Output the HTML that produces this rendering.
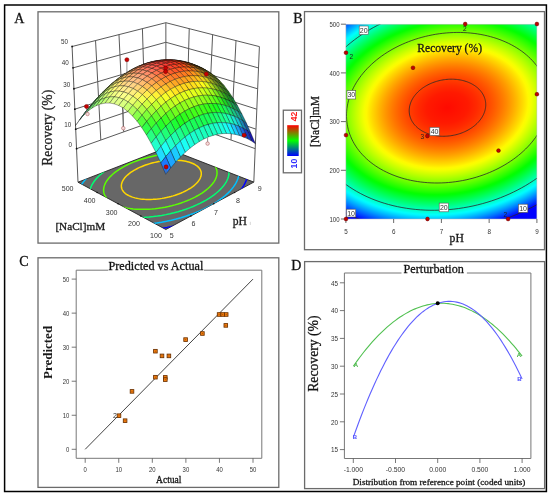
<!DOCTYPE html><html><head><meta charset="utf-8"><style>html,body{margin:0;padding:0;background:#fff;}svg{display:block;}</style></head><body>
<svg width="550" height="496" viewBox="0 0 550 496">
<style>.h{stroke:#1a1a1a;stroke-width:0.3px;}</style>
<rect x="0" y="0" width="550" height="496" fill="#fff"/>
<rect x="4.6" y="5" width="541.8" height="486.5" fill="none" stroke="#000" stroke-width="1.5"/>
<rect x="38" y="11.8" width="240.8" height="231.3" fill="none" stroke="#6b6b6b" stroke-width="1.3"/>
<rect x="304.5" y="11.6" width="240" height="238.1" fill="none" stroke="#6b6b6b" stroke-width="1.3"/>
<rect x="283.3" y="110.2" width="18.2" height="62.6" fill="none" stroke="#6b6b6b" stroke-width="1.3"/>
<rect x="38" y="257.8" width="240.8" height="229.6" fill="none" stroke="#6b6b6b" stroke-width="1.3"/>
<rect x="304.6" y="261.6" width="240" height="227" fill="none" stroke="#6b6b6b" stroke-width="1.3"/>
<text x="14.3" y="22.5" font-family="Liberation Serif, serif" class="h" font-size="14" fill="#111">A</text>
<text x="293.2" y="22.5" font-family="Liberation Serif, serif" class="h" font-size="14" fill="#111">B</text>
<text x="19.2" y="266.4" font-family="Liberation Serif, serif" class="h" font-size="14" fill="#111">C</text>
<text x="291.2" y="270" font-family="Liberation Serif, serif" class="h" font-size="14" fill="#111">D</text>
<path d="M76.56,148.69L165.96,116.84L255.16,148.64M75.71,129.16L165.94,98.74L255.96,129.13M74.84,109.18L165.91,80.29L256.79,109.19M73.95,88.76L165.89,61.47L257.63,88.8M73.04,67.87L165.87,42.28L258.5,67.94M72.1,46.5L165.85,22.7L259.4,46.6M100.8,139.98L95.54,40.55M186.51,124.1L189.24,28.68M123.69,131.81L118.97,34.6M208.15,131.79L212.62,34.65M145.37,124.11L142.41,28.65M230.98,139.95L236.01,40.62M78,182.2L72.1,46.5M166,148L165.85,22.7M253.8,182.1L259.4,46.6" stroke="#5a5a5a" stroke-width="1.0" fill="none"/>
<circle cx="76.56" cy="148.69" r="0.9" fill="#111"/>
<circle cx="75.71" cy="129.16" r="0.9" fill="#111"/>
<circle cx="74.84" cy="109.18" r="0.9" fill="#111"/>
<circle cx="73.95" cy="88.76" r="0.9" fill="#111"/>
<circle cx="73.04" cy="67.87" r="0.9" fill="#111"/>
<circle cx="72.1" cy="46.5" r="0.9" fill="#111"/>
<clipPath id="flc"><polygon points="78,182.2 166,148 253.8,182.1 165.85,229.5"/></clipPath>
<polygon points="78,182.2 166,148 253.8,182.1 165.85,229.5" fill="#676767" stroke="#222" stroke-width="0.9"/>
<g clip-path="url(#flc)" fill="none" stroke-width="1.5">
<path d="M86.74,224.37L83.37,222.81L80.3,221.12L77.53,219.32L75.07,217.41L72.92,215.41L71.08,213.31L69.55,211.14L68.33,208.9L67.43,206.61L66.82,204.26L66.51,201.88L66.5,199.47L66.77,197.05L67.31,194.61L68.12,192.17L69.18,189.74L70.49,187.32L72.04,184.92L73.8,182.55L75.78,180.21L77.95,177.91L80.32,175.65L82.86,173.45L85.56,171.29L88.42,169.2L91.43,167.16L94.56,165.19L97.82,163.28L101.18,161.44L104.65,159.68L108.21,157.99L111.85,156.37L115.57,154.84L119.34,153.38L123.18,152L127.06,150.7L130.98,149.48L134.93,148.35L138.91,147.29L142.91,146.33L146.91,145.44L150.92,144.64L154.93,143.93L158.93,143.3L162.92,142.75L166.88,142.29L170.82,141.92L174.72,141.63L178.59,141.43L182.41,141.31L186.18,141.28L189.9,141.34L193.56,141.48L197.15,141.7L200.67,142.01L204.11,142.41L207.47,142.89L210.74,143.46L213.91,144.12L216.99,144.85L219.96,145.68L222.81,146.58L225.55,147.57L228.16,148.65L230.65,149.81L232.99,151.05L235.19,152.37L237.23,153.77L239.12,155.25L240.85,156.81L242.4,158.44L243.77,160.15L244.95,161.94L245.95,163.79L246.74,165.72L247.32,167.7L247.69,169.76L247.84,171.87L247.76,174.04L247.45,176.26L246.9,178.52L246.1,180.83L245.05,183.18L243.75,185.56L242.19,187.96L240.38,190.39L238.29,192.82L235.95,195.26L233.35,197.69L230.48,200.11L227.35,202.52L223.97,204.89L220.34,207.22L216.47,209.5L212.36,211.72L208.04,213.87L203.49,215.94L198.76,217.92L193.83,219.8L188.75,221.58L183.51,223.23L178.15,224.75L172.68,226.14L167.13,227.38L161.51,228.47L155.86,229.39L150.2,230.16L144.55,230.75L138.94,231.17L133.4,231.42L127.95,231.48L122.61,231.37L117.41,231.08L112.38,230.61L107.53,229.98L102.89,229.17L98.47,228.2L94.3,227.07L90.38,225.79L86.74,224.37Z" stroke="#0000ff"/>
<path d="M96.06,218.68L93.06,217.34L90.32,215.89L87.83,214.33L85.6,212.68L83.64,210.95L81.95,209.13L80.53,207.24L79.37,205.3L78.49,203.3L77.87,201.25L77.51,199.17L77.41,197.05L77.56,194.92L77.95,192.77L78.58,190.62L79.44,188.47L80.52,186.33L81.81,184.2L83.3,182.08L84.98,180L86.85,177.94L88.9,175.92L91.1,173.94L93.46,172.01L95.97,170.12L98.6,168.28L101.37,166.5L104.25,164.77L107.24,163.1L110.32,161.5L113.49,159.96L116.75,158.49L120.07,157.09L123.46,155.75L126.91,154.49L130.4,153.3L133.93,152.19L137.5,151.14L141.1,150.18L144.71,149.29L148.34,148.47L151.98,147.74L155.61,147.08L159.24,146.5L162.86,146L166.46,145.57L170.04,145.23L173.59,144.96L177.11,144.77L180.58,144.67L184.01,144.64L187.39,144.69L190.72,144.82L193.98,145.03L197.17,145.31L200.29,145.68L203.34,146.13L206.3,146.65L209.17,147.25L211.94,147.93L214.62,148.69L217.19,149.53L219.65,150.44L221.99,151.42L224.2,152.49L226.29,153.62L228.24,154.83L230.05,156.11L231.72,157.46L233.22,158.89L234.57,160.38L235.75,161.93L236.76,163.55L237.6,165.23L238.24,166.97L238.7,168.77L238.97,170.62L239.03,172.52L238.88,174.47L238.53,176.46L237.96,178.49L237.17,180.55L236.16,182.65L234.92,184.76L233.46,186.9L231.77,189.04L229.85,191.2L227.69,193.35L225.31,195.49L222.71,197.62L219.88,199.72L216.83,201.8L213.57,203.83L210.1,205.82L206.44,207.75L202.58,209.62L198.55,211.41L194.35,213.12L190.01,214.75L185.52,216.28L180.91,217.7L176.2,219.01L171.4,220.2L166.53,221.26L161.61,222.19L156.67,222.99L151.72,223.64L146.79,224.15L141.89,224.51L137.04,224.72L132.28,224.77L127.61,224.68L123.07,224.43L118.66,224.03L114.41,223.48L110.33,222.79L106.44,221.96L102.76,221L99.29,219.9L96.06,218.68Z" stroke="#00c0ff"/>
<path d="M106.2,212.48L103.62,211.37L101.25,210.17L99.08,208.88L97.13,207.5L95.4,206.05L93.9,204.54L92.61,202.96L91.56,201.32L90.72,199.64L90.11,197.91L89.72,196.15L89.55,194.36L89.59,192.55L89.84,190.72L90.3,188.89L90.95,187.05L91.8,185.21L92.83,183.38L94.04,181.56L95.42,179.76L96.96,177.98L98.65,176.23L100.5,174.51L102.48,172.82L104.6,171.17L106.84,169.56L109.19,168L111.65,166.48L114.21,165.02L116.87,163.61L119.6,162.25L122.42,160.95L125.3,159.7L128.24,158.52L131.24,157.4L134.29,156.34L137.38,155.34L140.5,154.41L143.65,153.55L146.82,152.75L150.01,152.03L153.21,151.37L156.41,150.78L159.61,150.25L162.8,149.8L165.98,149.42L169.14,149.11L172.27,148.87L175.37,148.71L178.44,148.61L181.47,148.58L184.45,148.63L187.38,148.74L190.25,148.93L193.07,149.19L195.81,149.52L198.49,149.92L201.09,150.39L203.6,150.93L206.03,151.54L208.37,152.22L210.61,152.97L212.75,153.78L214.78,154.66L216.69,155.61L218.49,156.62L220.17,157.7L221.71,158.84L223.12,160.03L224.39,161.29L225.52,162.61L226.5,163.98L227.32,165.41L227.99,166.89L228.49,168.42L228.82,169.99L228.98,171.61L228.97,173.27L228.77,174.97L228.39,176.7L227.82,178.45L227.06,180.24L226.11,182.04L224.97,183.87L223.64,185.7L222.11,187.54L220.38,189.38L218.47,191.21L216.36,193.03L214.06,194.84L211.58,196.62L208.92,198.37L206.08,200.09L203.08,201.76L199.91,203.38L196.59,204.94L193.13,206.44L189.54,207.87L185.82,209.23L182,210.49L178.08,211.67L174.07,212.76L170,213.74L165.88,214.62L161.73,215.39L157.55,216.05L153.37,216.59L149.2,217L145.07,217.3L140.98,217.47L136.96,217.52L133.02,217.44L129.18,217.23L125.45,216.91L121.85,216.46L118.39,215.89L115.08,215.2L111.94,214.4L108.98,213.5L106.2,212.48Z" stroke="#00ff72"/>
<path d="M117.67,205.48L115.58,204.62L113.64,203.69L111.87,202.68L110.26,201.61L108.82,200.47L107.55,199.28L106.46,198.04L105.54,196.75L104.8,195.42L104.24,194.06L103.85,192.66L103.63,191.24L103.58,189.79L103.71,188.33L103.99,186.86L104.44,185.38L105.05,183.89L105.81,182.41L106.71,180.94L107.76,179.47L108.95,178.02L110.26,176.59L111.7,175.18L113.27,173.79L114.94,172.43L116.72,171.1L118.6,169.81L120.58,168.55L122.65,167.33L124.79,166.15L127.02,165.02L129.31,163.93L131.66,162.88L134.08,161.89L136.54,160.94L139.05,160.05L141.6,159.21L144.18,158.42L146.79,157.69L149.42,157.02L152.07,156.4L154.73,155.84L157.4,155.33L160.06,154.89L162.72,154.5L165.38,154.18L168.01,153.92L170.63,153.71L173.22,153.57L175.79,153.48L178.32,153.46L180.81,153.5L183.25,153.6L185.65,153.76L187.99,153.98L190.28,154.26L192.51,154.6L194.66,155.01L196.75,155.47L198.76,155.98L200.68,156.56L202.53,157.2L204.28,157.89L205.94,158.63L207.5,159.43L208.95,160.29L210.3,161.2L211.54,162.15L212.67,163.16L213.67,164.22L214.55,165.32L215.3,166.47L215.92,167.66L216.41,168.89L216.76,170.16L216.97,171.46L217.03,172.8L216.95,174.16L216.71,175.56L216.33,176.97L215.8,178.41L215.11,179.87L214.26,181.33L213.26,182.81L212.11,184.29L210.8,185.77L209.33,187.25L207.72,188.72L205.95,190.18L204.04,191.62L201.99,193.04L199.8,194.43L197.47,195.78L195.02,197.1L192.44,198.38L189.75,199.6L186.95,200.78L184.06,201.9L181.07,202.95L178,203.94L174.87,204.86L171.67,205.7L168.43,206.46L165.15,207.14L161.85,207.74L158.54,208.24L155.22,208.66L151.92,208.98L148.65,209.21L145.41,209.34L142.22,209.37L139.1,209.31L136.04,209.15L133.08,208.9L130.21,208.56L127.45,208.12L124.81,207.59L122.29,206.97L119.91,206.27L117.67,205.48Z" stroke="#5bff00"/>
<path d="M131.76,196.88L130.3,196.31L128.94,195.68L127.68,195.01L126.53,194.3L125.49,193.54L124.57,192.74L123.76,191.91L123.06,191.04L122.49,190.14L122.03,189.21L121.69,188.25L121.47,187.28L121.37,186.29L121.38,185.28L121.51,184.26L121.75,183.24L122.11,182.2L122.57,181.17L123.14,180.13L123.81,179.1L124.58,178.08L125.44,177.06L126.4,176.06L127.45,175.07L128.59,174.1L129.8,173.14L131.09,172.21L132.46,171.3L133.9,170.42L135.4,169.56L136.95,168.73L138.57,167.93L140.24,167.17L141.95,166.44L143.7,165.74L145.5,165.08L147.32,164.46L149.18,163.88L151.06,163.33L152.96,162.83L154.88,162.37L156.81,161.95L158.74,161.57L160.68,161.24L162.62,160.95L164.55,160.71L166.47,160.51L168.38,160.36L170.27,160.25L172.14,160.19L173.99,160.17L175.8,160.2L177.58,160.27L179.33,160.39L181.03,160.56L182.69,160.77L184.3,161.03L185.86,161.33L187.36,161.67L188.8,162.06L190.18,162.49L191.5,162.96L192.75,163.48L193.92,164.03L195.02,164.62L196.04,165.26L196.97,165.93L197.82,166.63L198.59,167.37L199.26,168.15L199.84,168.95L200.33,169.79L200.72,170.65L201.01,171.54L201.2,172.46L201.29,173.4L201.27,174.36L201.14,175.34L200.91,176.33L200.58,177.34L200.13,178.35L199.58,179.38L198.91,180.41L198.15,181.45L197.27,182.48L196.29,183.51L195.21,184.54L194.02,185.55L192.74,186.56L191.36,187.54L189.88,188.51L188.31,189.46L186.66,190.38L184.93,191.27L183.11,192.13L181.23,192.96L179.28,193.75L177.26,194.49L175.2,195.2L173.08,195.85L170.92,196.46L168.73,197.02L166.5,197.53L164.26,197.98L162,198.37L159.74,198.7L157.49,198.97L155.24,199.18L153.01,199.33L150.8,199.42L148.63,199.44L146.5,199.4L144.42,199.3L142.39,199.13L140.43,198.91L138.53,198.62L136.71,198.27L134.98,197.86L133.32,197.4L131.76,196.88Z" stroke="#ffd700"/>
</g>
<g stroke="#000" stroke-opacity="0.5" stroke-width="0.65" stroke-linejoin="round">
<path d="M165.9,75.27L170.23,77.08L165.91,81.19L161.59,79.46Z" fill="#99d9a8"/>
<path d="M161.5,73.84L165.9,75.27L161.59,79.46L157.21,78.12Z" fill="#99e99d"/>
<path d="M170.29,71.78L174.64,73.68L170.23,77.08L165.9,75.27Z" fill="#9ecf99"/>
<path d="M157.05,72.81L161.5,73.84L157.21,78.12L152.79,77.17Z" fill="#a3f799"/>
<path d="M165.88,70.26L170.29,71.78L165.9,75.27L161.5,73.84Z" fill="#abde99"/>
<path d="M174.75,69L179.11,70.98L174.64,73.68L170.29,71.78Z" fill="#a9c799"/>
<path d="M152.57,72.17L157.05,72.81L152.79,77.17L148.32,76.62Z" fill="#b1ff99"/>
<path d="M161.42,69.14L165.88,70.26L161.5,73.84L157.05,72.81Z" fill="#bdef99"/>
<path d="M170.33,67.4L174.75,69L170.29,71.78L165.88,70.26Z" fill="#b8d399"/>
<path d="M179.27,66.95L183.63,69.02L179.11,70.98L174.75,69Z" fill="#b2c499"/>
<path d="M156.92,68.42L161.42,69.14L157.05,72.81L152.57,72.17Z" fill="#d0fc99"/>
<path d="M174.84,65.27L179.27,66.95L174.75,69L170.33,67.4Z" fill="#beca99"/>
<path d="M183.82,65.64L188.17,67.79L183.63,69.02L179.27,66.95Z" fill="#96a666"/>
<path d="M148.06,71.93L152.57,72.17L148.32,76.62L143.83,76.47Z" fill="#bbff99"/>
<path d="M165.86,66.2L170.33,67.4L165.88,70.26L161.42,69.14Z" fill="#cde499"/>
<path d="M161.35,65.39L165.86,66.2L161.42,69.14L156.92,68.42Z" fill="#e6f699"/>
<path d="M170.36,63.98L174.84,65.27L170.33,67.4L165.86,66.2Z" fill="#d4d999"/>
<path d="M143.52,72.1L148.06,71.93L143.83,76.47L139.32,76.72Z" fill="#c3ff99"/>
<path d="M152.39,68.1L156.92,68.42L152.57,72.17L148.06,71.93Z" fill="#dcff99"/>
<path d="M179.39,63.88L183.82,65.64L179.27,66.95L174.84,65.27Z" fill="#a9ad6f"/>
<path d="M188.39,65.09L192.74,67.31L188.17,67.79L183.82,65.64Z" fill="#7a852d"/>
<path d="M138.97,72.69L143.52,72.1L139.32,76.72L134.79,77.38Z" fill="#c9ff99"/>
<path d="M147.83,68.19L152.39,68.1L148.06,71.93L143.52,72.1Z" fill="#e5ff99"/>
<path d="M156.81,64.98L161.35,65.39L156.92,68.42L152.39,68.1Z" fill="#f9ff99"/>
<path d="M165.85,63.09L170.36,63.98L165.86,66.2L161.35,65.39Z" fill="#ede899"/>
<path d="M183.96,63.25L188.39,65.09L183.82,65.64L179.39,63.88Z" fill="#898334"/>
<path d="M192.96,65.3L197.31,67.6L192.74,67.31L188.39,65.09Z" fill="#777a1a"/>
<path d="M174.91,62.51L179.39,63.88L174.84,65.27L170.36,63.98Z" fill="#c0b877"/>
<path d="M134.41,73.69L138.97,72.69L134.79,77.38L130.26,78.46Z" fill="#ccff99"/>
<path d="M143.27,68.69L147.83,68.19L143.52,72.1L138.97,72.69Z" fill="#ebff99"/>
<path d="M152.24,64.99L156.81,64.98L152.39,68.1L147.83,68.19Z" fill="#fffc99"/>
<path d="M161.29,62.6L165.85,63.09L161.35,65.39L156.81,64.98Z" fill="#fceb99"/>
<path d="M170.39,61.54L174.91,62.51L170.36,63.98L165.85,63.09Z" fill="#dbc47d"/>
<path d="M179.49,61.8L183.96,63.25L179.39,63.88L174.91,62.51Z" fill="#96803b"/>
<path d="M188.55,63.38L192.96,65.3L188.39,65.09L183.96,63.25Z" fill="#7a6b1a"/>
<path d="M197.54,66.28L201.87,68.65L197.31,67.6L192.96,65.3Z" fill="#7a7a1a"/>
<path d="M129.85,75.11L134.41,73.69L130.26,78.46L125.72,79.96Z" fill="#cdff99"/>
<path d="M138.69,69.62L143.27,68.69L138.97,72.69L134.41,73.69Z" fill="#eeff99"/>
<path d="M147.66,65.42L152.24,64.99L147.83,68.19L143.27,68.69Z" fill="#fff699"/>
<path d="M156.72,62.53L161.29,62.6L156.81,64.98L152.24,64.99Z" fill="#ffe499"/>
<path d="M165.83,60.97L170.39,61.54L165.85,63.09L161.29,62.6Z" fill="#f4ca82"/>
<path d="M174.96,60.75L179.49,61.8L174.91,62.51L170.39,61.54Z" fill="#b88b43"/>
<path d="M184.08,61.86L188.55,63.38L183.96,63.25L179.49,61.8Z" fill="#7c5c1a"/>
<path d="M193.14,64.3L197.54,66.28L192.96,65.3L188.55,63.38Z" fill="#7a661a"/>
<path d="M202.1,68.06L206.41,70.49L201.87,68.65L197.54,66.28Z" fill="#7a7a1a"/>
<path d="M134.11,70.97L138.69,69.62L134.41,73.69L129.85,75.11Z" fill="#efff99"/>
<path d="M143.06,66.26L147.66,65.42L143.27,68.69L138.69,69.62Z" fill="#fff299"/>
<path d="M152.12,62.88L156.72,62.53L152.24,64.99L147.66,65.42Z" fill="#ffdd99"/>
<path d="M179.56,60.74L184.08,61.86L179.49,61.8L174.96,60.75Z" fill="#995c1c"/>
<path d="M188.67,62.71L193.14,64.3L188.55,63.38L184.08,61.86Z" fill="#7a561a"/>
<path d="M197.71,66.01L202.1,68.06L197.54,66.28L193.14,64.3Z" fill="#7a661a"/>
<path d="M125.29,76.97L129.85,75.11L125.72,79.96L121.18,81.88Z" fill="#cbff99"/>
<path d="M161.25,60.82L165.83,60.97L161.29,62.6L156.72,62.53Z" fill="#ffc784"/>
<path d="M170.4,60.11L174.96,60.75L170.39,61.54L165.83,60.97Z" fill="#e19449"/>
<path d="M206.64,70.63L210.93,73.12L206.41,70.49L202.1,68.06Z" fill="#757a1a"/>
<path d="M138.46,67.54L143.06,66.26L138.69,69.62L134.11,70.97Z" fill="#fff199"/>
<path d="M147.51,63.65L152.12,62.88L147.66,65.42L143.06,66.26Z" fill="#ffd999"/>
<path d="M184.16,61.52L188.67,62.71L184.08,61.86L179.56,60.74Z" fill="#8d501b"/>
<path d="M193.26,64.35L197.71,66.01L193.14,64.3L188.67,62.71Z" fill="#7a551a"/>
<path d="M120.73,79.25L125.29,76.97L121.18,81.88L116.64,84.24Z" fill="#c7ff99"/>
<path d="M129.52,72.75L134.11,70.97L129.85,75.11L125.29,76.97Z" fill="#eeff99"/>
<path d="M156.64,61.09L161.25,60.82L156.72,62.53L152.12,62.88Z" fill="#ffbf86"/>
<path d="M165.82,59.88L170.4,60.11L165.83,60.97L161.25,60.82Z" fill="#fd9450"/>
<path d="M175,60.02L179.56,60.74L174.96,60.75L170.4,60.11Z" fill="#c9621f"/>
<path d="M202.28,68.52L206.64,70.63L202.1,68.06L197.71,66.01Z" fill="#7a6b1a"/>
<path d="M211.17,74L215.43,76.54L210.93,73.12L206.64,70.63Z" fill="#6c7a1a"/>
<path d="M142.9,64.85L147.51,63.65L143.06,66.26L138.46,67.54Z" fill="#ffd696"/>
<path d="M188.76,63.09L193.26,64.35L188.67,62.71L184.16,61.52Z" fill="#884d1a"/>
<path d="M133.86,69.25L138.46,67.54L134.11,70.97L129.52,72.75Z" fill="#fff299"/>
<path d="M152.03,61.79L156.64,61.09L152.12,62.88L147.51,63.65Z" fill="#ffba86"/>
<path d="M161.21,60.08L165.82,59.88L161.25,60.82L156.64,61.09Z" fill="#ff8c55"/>
<path d="M170.41,59.72L175,60.02L170.4,60.11L165.82,59.88Z" fill="#f56024"/>
<path d="M179.61,60.73L184.16,61.52L179.56,60.74L175,60.02Z" fill="#ba511c"/>
<path d="M197.85,66.8L202.28,68.52L197.71,66.01L193.26,64.35Z" fill="#7a591a"/>
<path d="M116.17,81.98L120.73,79.25L116.64,84.24L112.1,87.03Z" fill="#c0ff99"/>
<path d="M124.94,74.97L129.52,72.75L125.29,76.97L120.73,79.25Z" fill="#eaff99"/>
<path d="M206.82,71.83L211.17,74L206.64,70.63L202.28,68.52Z" fill="#7a731a"/>
<path d="M215.67,78.17L219.9,80.76L215.43,76.54L211.17,74Z" fill="#5e7a1a"/>
<path d="M111.61,85.15L116.17,81.98L112.1,87.03L107.57,90.26Z" fill="#b6ff99"/>
<path d="M120.36,77.63L124.94,74.97L120.73,79.25L116.17,81.98Z" fill="#e3ff99"/>
<path d="M129.26,71.4L133.86,69.25L129.52,72.75L124.94,74.97Z" fill="#fff697"/>
<path d="M138.29,66.49L142.9,64.85L138.46,67.54L133.86,69.25Z" fill="#ffd693"/>
<path d="M147.4,62.91L152.03,61.79L147.51,63.65L142.9,64.85Z" fill="#ffb786"/>
<path d="M156.59,60.7L161.21,60.08L156.64,61.09L152.03,61.79Z" fill="#ff885a"/>
<path d="M165.8,59.85L170.41,59.72L165.82,59.88L161.21,60.08Z" fill="#ff5729"/>
<path d="M175.02,60.36L179.61,60.73L175,60.02L170.41,59.72Z" fill="#ec4e1e"/>
<path d="M184.22,62.24L188.76,63.09L184.16,61.52L179.61,60.73Z" fill="#b24d1b"/>
<path d="M193.36,65.48L197.85,66.8L193.26,64.35L188.76,63.09Z" fill="#87511a"/>
<path d="M202.41,70.06L206.82,71.83L202.28,68.52L197.85,66.8Z" fill="#7a621a"/>
<path d="M211.35,75.97L215.67,78.17L211.17,74L206.82,71.83Z" fill="#737a1a"/>
<path d="M220.14,83.17L224.34,85.79L219.9,80.76L215.67,78.17Z" fill="#4c7a1a"/>
<path d="M151.96,61.75L156.59,60.7L152.03,61.79L147.4,62.91Z" fill="#ff875f"/>
<path d="M161.18,60.4L165.8,59.85L161.21,60.08L156.59,60.7Z" fill="#ff5230"/>
<path d="M170.42,60.42L175.02,60.36L170.41,59.72L165.8,59.85Z" fill="#ff4422"/>
<path d="M179.64,61.81L184.22,62.24L179.61,60.73L175.02,60.36Z" fill="#e54a1d"/>
<path d="M215.86,80.92L220.14,83.17L215.67,78.17L211.35,75.97Z" fill="#617a1a"/>
<path d="M107.05,88.77L111.61,85.15L107.57,90.26L103.04,93.93Z" fill="#aaff99"/>
<path d="M115.78,80.74L120.36,77.63L116.17,81.98L111.61,85.15Z" fill="#d9ff97"/>
<path d="M124.66,73.99L129.26,71.4L124.94,74.97L120.36,77.63Z" fill="#fffc94"/>
<path d="M133.67,68.57L138.29,66.49L133.86,69.25L129.26,71.4Z" fill="#ffd890"/>
<path d="M142.78,64.48L147.4,62.91L142.9,64.85L138.29,66.49Z" fill="#ffb785"/>
<path d="M188.83,64.57L193.36,65.48L188.76,63.09L184.22,62.24Z" fill="#af511b"/>
<path d="M197.94,68.69L202.41,70.06L197.85,66.8L193.36,65.48Z" fill="#8b5c1a"/>
<path d="M206.96,74.15L211.35,75.97L206.82,71.83L202.41,70.06Z" fill="#7c701a"/>
<path d="M224.6,88.98L228.76,91.63L224.34,85.79L220.14,83.17Z" fill="#367a1a"/>
<path d="M111.2,84.3L115.78,80.74L111.61,85.15L107.05,88.77Z" fill="#cdff94"/>
<path d="M120.06,77.04L124.66,73.99L120.36,77.63L115.78,80.74Z" fill="#f9ff91"/>
<path d="M129.06,71.1L133.67,68.57L129.26,71.4L124.66,73.99Z" fill="#ffde8e"/>
<path d="M156.54,61.39L161.18,60.4L156.59,60.7L151.96,61.75Z" fill="#ff5439"/>
<path d="M165.79,60.9L170.42,60.42L165.8,59.85L161.18,60.4Z" fill="#ff3d27"/>
<path d="M175.04,61.8L179.64,61.81L175.02,60.36L170.42,60.42Z" fill="#ff4021"/>
<path d="M202.51,72.73L206.96,74.15L202.41,70.06L197.94,68.69Z" fill="#92701a"/>
<path d="M220.35,86.7L224.6,88.98L220.14,83.17L215.86,80.92Z" fill="#4c7b1a"/>
<path d="M102.49,92.84L107.05,88.77L103.04,93.93L98.5,98.05Z" fill="#99ff96"/>
<path d="M147.32,63.25L151.96,61.75L147.4,62.91L142.78,64.48Z" fill="#ff8b64"/>
<path d="M184.26,64.08L188.83,64.57L184.22,62.24L179.64,61.81Z" fill="#e14f1c"/>
<path d="M211.5,79.06L215.86,80.92L211.35,75.97L206.96,74.15Z" fill="#7c821a"/>
<path d="M229.05,95.61L233.17,98.28L228.76,91.63L224.6,88.98Z" fill="#1b7a1a"/>
<path d="M138.15,66.5L142.78,64.48L138.29,66.49L133.67,68.57Z" fill="#ffbb85"/>
<path d="M193.43,67.73L197.94,68.69L193.36,65.48L188.83,64.57Z" fill="#b25e1a"/>
<path d="M161.16,61.82L165.79,60.9L161.18,60.4L156.54,61.39Z" fill="#ff3e2f"/>
<path d="M170.42,62.22L175.04,61.8L170.42,60.42L165.79,60.9Z" fill="#ff3826"/>
<path d="M207.07,77.61L211.5,79.06L206.96,74.15L202.51,72.73Z" fill="#9d8e1a"/>
<path d="M115.47,80.55L120.06,77.04L115.78,80.74L111.2,84.3Z" fill="#edff8f"/>
<path d="M124.44,74.08L129.06,71.1L124.66,73.99L120.06,77.04Z" fill="#ffe78c"/>
<path d="M216.02,84.81L220.35,86.7L215.86,80.92L211.5,79.06Z" fill="#6b8b1a"/>
<path d="M106.62,88.32L111.2,84.3L107.05,88.77L102.49,92.84Z" fill="#bcff91"/>
<path d="M151.9,62.82L156.54,61.39L151.96,61.75L147.32,63.25Z" fill="#ff5b42"/>
<path d="M179.66,64.01L184.26,64.08L179.64,61.81L175.04,61.8Z" fill="#ff451f"/>
<path d="M224.83,93.31L229.05,95.61L224.6,88.98L220.35,86.7Z" fill="#33821a"/>
<path d="M233.49,103.06L237.57,105.74L233.17,98.28L229.05,95.61Z" fill="#1a7d38"/>
<path d="M133.52,68.96L138.15,66.5L133.67,68.57L129.06,71.1Z" fill="#ffc184"/>
<path d="M142.68,65.2L147.32,63.25L142.78,64.48L138.15,66.5Z" fill="#ff9269"/>
<path d="M188.87,67.18L193.43,67.73L188.83,64.57L184.26,64.08Z" fill="#e25e1b"/>
<path d="M198.01,71.72L202.51,72.73L197.94,68.69L193.43,67.73Z" fill="#ba761a"/>
<path d="M97.92,97.37L102.49,92.84L98.5,98.05L93.95,102.63Z" fill="#93ffa1"/>
<path d="M165.78,63.08L170.42,62.22L165.79,60.9L161.16,61.82Z" fill="#ff382e"/>
<path d="M119.83,77.53L124.44,74.08L120.06,77.04L115.47,80.55Z" fill="#fff38b"/>
<path d="M211.62,83.32L216.02,84.81L211.5,79.06L207.07,77.61Z" fill="#9aaa1a"/>
<path d="M93.33,102.36L97.92,97.37L93.95,102.63L89.38,107.66Z" fill="#90ffb4"/>
<path d="M110.86,84.51L115.47,80.55L111.2,84.3L106.62,88.32Z" fill="#ddff8c"/>
<path d="M156.51,63.19L161.16,61.82L156.54,61.39L151.9,62.82Z" fill="#ff4639"/>
<path d="M175.05,64.37L179.66,64.01L175.04,61.8L170.42,62.22Z" fill="#ff3b24"/>
<path d="M220.54,91.4L224.83,93.31L220.35,86.7L216.02,84.81Z" fill="#52981a"/>
<path d="M128.9,71.89L133.52,68.96L129.06,71.1L124.44,74.08Z" fill="#ffca84"/>
<path d="M138.05,67.6L142.68,65.2L138.15,66.5L133.52,68.96Z" fill="#ff9c6d"/>
<path d="M147.26,64.7L151.9,62.82L147.32,63.25L142.68,65.2Z" fill="#ff684c"/>
<path d="M184.29,67.06L188.87,67.18L184.26,64.08L179.66,64.01Z" fill="#ff541d"/>
<path d="M193.48,71.12L198.01,71.72L193.43,67.73L188.87,67.18Z" fill="#e6771b"/>
<path d="M202.6,76.55L207.07,77.61L202.51,72.73L198.01,71.72Z" fill="#c5991a"/>
<path d="M237.95,111.33L241.98,114.02L237.57,105.74L233.49,103.06Z" fill="#1a8662"/>
<path d="M102.03,92.8L106.62,88.32L102.49,92.84L97.92,97.37Z" fill="#a8ff8e"/>
<path d="M229.32,100.75L233.49,103.06L229.05,95.61L224.83,93.31Z" fill="#1a8d22"/>
<path d="M97.42,97.75L102.03,92.8L97.92,97.37L93.33,102.36Z" fill="#91ff8c"/>
<path d="M115.21,81.45L119.83,77.53L115.47,80.55L110.86,84.51Z" fill="#fcff89"/>
<path d="M161.14,64.39L165.78,63.08L161.16,61.82L156.51,63.19Z" fill="#ff4039"/>
<path d="M170.42,65.18L175.05,64.37L170.42,62.22L165.78,63.08Z" fill="#ff392a"/>
<path d="M216.17,89.89L220.54,91.4L216.02,84.81L211.62,83.32Z" fill="#7cb81a"/>
<path d="M124.27,75.28L128.9,71.89L124.44,74.08L119.83,77.53Z" fill="#ffd784"/>
<path d="M133.41,70.47L138.05,67.6L133.52,68.96L128.9,71.89Z" fill="#ffaa71"/>
<path d="M142.61,67.04L147.26,64.7L142.68,65.2L138.05,67.6Z" fill="#ff7956"/>
<path d="M151.86,65.01L156.51,63.19L151.9,62.82L147.26,64.7Z" fill="#ff5546"/>
<path d="M179.68,67.37L184.29,67.06L179.66,64.01L175.05,64.37Z" fill="#ff4821"/>
<path d="M188.9,70.95L193.48,71.12L188.87,67.18L184.29,67.06Z" fill="#ff6e1c"/>
<path d="M198.08,75.92L202.6,76.55L198.01,71.72L193.48,71.12Z" fill="#ec9d1a"/>
<path d="M207.17,82.24L211.62,83.32L207.07,77.61L202.6,76.55Z" fill="#d0c91a"/>
<path d="M225.06,98.83L229.32,100.75L224.83,93.31L220.54,91.4Z" fill="#2ca61a"/>
<path d="M233.82,109.02L237.95,111.33L233.49,103.06L229.32,100.75Z" fill="#1a9a51"/>
<path d="M88.72,107.82L93.33,102.36L89.38,107.66L84.79,113.15Z" fill="#8dffca"/>
<path d="M106.25,88.95L110.86,84.51L106.62,88.32L102.03,92.8Z" fill="#caff8a"/>
<path d="M242.43,120.43L246.41,123.1L241.98,114.02L237.95,111.33Z" fill="#1a8891"/>
<path d="M101.63,93.86L106.25,88.95L102.03,92.8L97.42,97.75Z" fill="#b4ff88"/>
<path d="M128.77,73.8L133.41,70.47L128.9,71.89L124.27,75.28Z" fill="#ffb974"/>
<path d="M137.97,69.85L142.61,67.04L138.05,67.6L133.41,70.47Z" fill="#ff8c60"/>
<path d="M147.21,67.3L151.86,65.01L147.26,64.7L142.61,67.04Z" fill="#ff6853"/>
<path d="M156.49,66.16L161.14,64.39L156.51,63.19L151.86,65.01Z" fill="#ff4f46"/>
<path d="M175.05,68.12L179.68,67.37L175.05,64.37L170.42,65.18Z" fill="#ff4325"/>
<path d="M184.31,71.22L188.9,70.95L184.29,67.06L179.68,67.37Z" fill="#ff601e"/>
<path d="M193.52,75.71L198.08,75.92L193.48,71.12L188.9,70.95Z" fill="#ff941b"/>
<path d="M202.67,81.57L207.17,82.24L202.6,76.55L198.08,75.92Z" fill="#f2cf1a"/>
<path d="M220.73,97.3L225.06,98.83L220.54,91.4L216.17,89.89Z" fill="#50c61a"/>
<path d="M229.6,107.09L233.82,109.02L229.32,100.75L225.06,98.83Z" fill="#1ab53d"/>
<path d="M92.79,103.18L97.42,97.75L93.33,102.36L88.72,107.82Z" fill="#89ff9c"/>
<path d="M110.58,85.83L115.21,81.45L110.86,84.51L106.25,88.95Z" fill="#eaff87"/>
<path d="M119.64,79.14L124.27,75.28L119.83,77.53L115.21,81.45Z" fill="#ffe683"/>
<path d="M165.77,66.43L170.42,65.18L165.78,63.08L161.14,64.39Z" fill="#ff3f34"/>
<path d="M211.75,88.78L216.17,89.89L211.62,83.32L207.17,82.24Z" fill="#b0dc1a"/>
<path d="M238.35,118.12L242.43,120.43L237.95,111.33L233.82,109.02Z" fill="#1aa892"/>
<path d="M84.07,113.75L88.72,107.82L84.79,113.15L80.17,119.11Z" fill="#8affe5"/>
<path d="M246.96,130.34L250.88,132.99L246.41,123.1L242.43,120.43Z" fill="#1a579e"/>
<path d="M105.94,90.7L110.58,85.83L106.25,88.95L101.63,93.86Z" fill="#d4ff86"/>
<path d="M133.32,73.13L137.97,69.85L133.41,70.47L128.77,73.8Z" fill="#ffa068"/>
<path d="M142.56,70.05L147.21,67.3L142.61,67.04L137.97,69.85Z" fill="#ff7e60"/>
<path d="M151.83,68.38L156.49,66.16L151.86,65.01L147.21,67.3Z" fill="#ff6354"/>
<path d="M179.69,71.93L184.31,71.22L179.68,67.37L175.05,68.12Z" fill="#ff5921"/>
<path d="M188.94,75.93L193.52,75.71L188.9,70.95L184.31,71.22Z" fill="#ff831c"/>
<path d="M198.14,81.33L202.67,81.57L198.08,75.92L193.52,75.71Z" fill="#ffc31a"/>
<path d="M225.3,105.56L229.6,107.09L225.06,98.83L220.73,97.3Z" fill="#1ad322"/>
<path d="M79.38,120.15L84.07,113.75L80.17,119.11L75.5,125.53Z" fill="#88fbff"/>
<path d="M96.98,99.24L101.63,93.86L97.42,97.75L92.79,103.18Z" fill="#99ff86"/>
<path d="M124.12,77.61L128.77,73.8L124.27,75.28L119.64,79.14Z" fill="#ffcb76"/>
<path d="M207.27,88.09L211.75,88.78L207.17,82.24L202.67,81.57Z" fill="#e2f81a"/>
<path d="M234.17,116.2L238.35,118.12L233.82,109.02L229.6,107.09Z" fill="#1ac385"/>
<path d="M161.12,68.14L165.77,66.43L161.14,64.39L156.49,66.16Z" fill="#ff4c3f"/>
<path d="M170.41,69.32L175.05,68.12L170.42,65.18L165.77,66.43Z" fill="#ff462d"/>
<path d="M216.33,96.18L220.73,97.3L216.17,89.89L211.75,88.78Z" fill="#79e61a"/>
<path d="M242.93,128.05L246.96,130.34L242.43,120.43L238.35,118.12Z" fill="#1a87b6"/>
<path d="M251.55,141.06L255.42,143.69L250.88,132.99L246.96,130.34Z" fill="#1a1aab"/>
<path d="M88.12,109.08L92.79,103.18L88.72,107.82L84.07,113.75Z" fill="#87ffb6"/>
<path d="M114.99,83.48L119.64,79.14L115.21,81.45L110.58,85.83Z" fill="#fff981"/>
<path d="M137.9,73.28L142.56,70.05L137.97,69.85L133.32,73.13Z" fill="#ff956c"/>
<path d="M147.17,71.08L151.83,68.38L147.21,67.3L142.56,70.05Z" fill="#ff7a62"/>
<path d="M184.33,76.6L188.94,75.93L184.31,71.22L179.69,71.93Z" fill="#ff7a1e"/>
<path d="M193.57,81.52L198.14,81.33L193.52,75.71L188.94,75.93Z" fill="#ffb21b"/>
<path d="M83.41,115.46L88.12,109.08L84.07,113.75L79.38,120.15Z" fill="#84ffd5"/>
<path d="M101.28,96.05L105.94,90.7L101.63,93.86L96.98,99.24Z" fill="#baff83"/>
<path d="M110.34,88.3L114.99,83.48L110.58,85.83L105.94,90.7Z" fill="#efff7f"/>
<path d="M128.66,76.89L133.32,73.13L128.77,73.8L124.12,77.61Z" fill="#ffb56f"/>
<path d="M202.76,87.82L207.27,88.09L202.67,81.57L198.14,81.33Z" fill="#fffd1a"/>
<path d="M229.92,114.68L234.17,116.2L229.6,107.09L225.3,105.56Z" fill="#1ade71"/>
<path d="M156.47,70.32L161.12,68.14L156.49,66.16L151.83,68.38Z" fill="#ff5f4d"/>
<path d="M175.06,73.08L179.69,71.93L175.05,68.12L170.41,69.32Z" fill="#ff5726"/>
<path d="M211.89,95.47L216.33,96.18L211.75,88.78L207.27,88.09Z" fill="#a1fc1a"/>
<path d="M220.94,104.43L225.3,105.56L220.73,97.3L216.33,96.18Z" fill="#33ee1a"/>
<path d="M238.8,126.15L242.93,128.05L238.35,118.12L234.17,116.2Z" fill="#1ac1d0"/>
<path d="M247.58,138.81L251.55,141.06L246.96,130.34L242.93,128.05Z" fill="#1a3cc3"/>
<path d="M92.3,105.11L96.98,99.24L92.79,103.18L88.12,109.08Z" fill="#83ff8c"/>
<path d="M119.47,81.9L124.12,77.61L119.64,79.14L114.99,83.48Z" fill="#ffe077"/>
<path d="M165.77,70.99L170.41,69.32L165.77,66.43L161.12,68.14Z" fill="#ff5036"/>
<path d="M142.51,74.26L147.17,71.08L142.56,70.05L137.9,73.28Z" fill="#ff9270"/>
<path d="M188.98,82.16L193.57,81.52L188.94,75.93L184.33,76.6Z" fill="#ffa71c"/>
<path d="M87.57,111.47L92.3,105.11L88.12,109.08L83.41,115.46Z" fill="#81ffaa"/>
<path d="M114.8,86.68L119.47,81.9L114.99,83.48L110.34,88.3Z" fill="#fff677"/>
<path d="M133.23,76.99L137.9,73.28L133.32,73.13L128.66,76.89Z" fill="#ffac75"/>
<path d="M198.21,87.99L202.76,87.82L198.14,81.33L193.57,81.52Z" fill="#ffeb1a"/>
<path d="M151.8,72.97L156.47,70.32L151.83,68.38L147.17,71.08Z" fill="#ff755b"/>
<path d="M179.71,77.72L184.33,76.6L179.69,71.93L175.06,73.08Z" fill="#ff7621"/>
<path d="M207.4,95.19L211.89,95.47L207.27,88.09L202.76,87.82Z" fill="#bcff1a"/>
<path d="M216.53,103.72L220.94,104.43L216.33,96.18L211.89,95.47Z" fill="#53fe1a"/>
<path d="M234.59,124.64L238.8,126.15L234.17,116.2L229.92,114.68Z" fill="#1ae8d1"/>
<path d="M243.5,136.94L247.58,138.81L242.93,128.05L238.8,126.15Z" fill="#1a6bdb"/>
<path d="M96.58,101.89L101.28,96.05L96.98,99.24L92.3,105.11Z" fill="#9cff81"/>
<path d="M105.66,93.61L110.34,88.3L105.94,90.7L101.28,96.05Z" fill="#d5ff7d"/>
<path d="M123.99,81.13L128.66,76.89L124.12,77.61L119.47,81.9Z" fill="#ffcc74"/>
<path d="M161.11,73.12L165.77,70.99L161.12,68.14L156.47,70.32Z" fill="#ff5f41"/>
<path d="M170.41,74.7L175.06,73.08L170.41,69.32L165.77,70.99Z" fill="#ff5e2c"/>
<path d="M225.59,113.55L229.92,114.68L225.3,105.56L220.94,104.43Z" fill="#1af557"/>
<path d="M91.84,108.22L96.58,101.89L92.3,105.11L87.57,111.47Z" fill="#7eff82"/>
<path d="M119.31,85.87L123.99,81.13L119.47,81.9L114.8,86.68Z" fill="#ffe376"/>
<path d="M137.83,77.93L142.51,74.26L137.9,73.28L133.23,76.99Z" fill="#ffa97b"/>
<path d="M193.63,88.6L198.21,87.99L193.57,81.52L188.98,82.16Z" fill="#ffdf1b"/>
<path d="M147.13,76.1L151.8,72.97L147.17,71.08L142.51,74.26Z" fill="#ff8e69"/>
<path d="M184.36,83.25L188.98,82.16L184.33,76.6L179.71,77.72Z" fill="#ffa11e"/>
<path d="M202.87,95.34L207.4,95.19L202.76,87.82L198.21,87.99Z" fill="#ceff1a"/>
<path d="M212.06,103.43L216.53,103.72L211.89,95.47L207.4,95.19Z" fill="#6cff1a"/>
<path d="M239.34,135.46L243.5,136.94L238.8,126.15L234.59,124.64Z" fill="#1a9def"/>
<path d="M110.1,91.96L114.8,86.68L110.34,88.3L105.66,93.61Z" fill="#edff76"/>
<path d="M128.56,81.19L133.23,76.99L128.66,76.89L123.99,81.13Z" fill="#ffc27c"/>
<path d="M156.45,75.73L161.11,73.12L156.47,70.32L151.8,72.97Z" fill="#ff734d"/>
<path d="M165.76,76.79L170.41,74.7L165.77,70.99L161.11,73.12Z" fill="#ff6934"/>
<path d="M175.07,79.31L179.71,77.72L175.06,73.08L170.41,74.7Z" fill="#ff7925"/>
<path d="M221.21,112.85L225.59,113.55L220.94,104.43L216.53,103.72Z" fill="#1aff3b"/>
<path d="M230.3,123.54L234.59,124.64L229.92,114.68L225.59,113.55Z" fill="#1afabc"/>
<path d="M100.94,99.42L105.66,93.61L101.28,96.05L96.58,101.89Z" fill="#b7ff7a"/>
<path d="M123.86,85.89L128.56,81.19L123.99,81.13L119.31,85.87Z" fill="#ffd981"/>
<path d="M198.31,95.94L202.87,95.34L198.21,87.99L193.63,88.6Z" fill="#dcff1a"/>
<path d="M207.56,103.58L212.06,103.43L207.4,95.19L202.87,95.34Z" fill="#80ff1a"/>
<path d="M96.19,105.73L100.94,99.42L96.58,101.89L91.84,108.22Z" fill="#93ff77"/>
<path d="M114.6,91.11L119.31,85.87L114.8,86.68L110.1,91.96Z" fill="#fffd77"/>
<path d="M133.15,82.09L137.83,77.93L133.23,76.99L128.56,81.19Z" fill="#ffc083"/>
<path d="M142.45,79.73L147.13,76.1L142.51,74.26L137.83,77.93Z" fill="#ffa675"/>
<path d="M151.77,78.82L156.45,75.73L151.8,72.97L147.13,76.1Z" fill="#ff8b59"/>
<path d="M161.1,79.36L165.76,76.79L161.11,73.12L156.45,75.73Z" fill="#ff7a3d"/>
<path d="M170.42,81.36L175.07,79.31L170.41,74.7L165.76,76.79Z" fill="#ff812a"/>
<path d="M179.73,84.8L184.36,83.25L179.71,77.72L175.07,79.31Z" fill="#ffa120"/>
<path d="M189.03,89.67L193.63,88.6L188.98,82.16L184.36,83.25Z" fill="#ffd81c"/>
<path d="M216.78,112.56L221.21,112.85L216.53,103.72L212.06,103.43Z" fill="#1aff21"/>
<path d="M225.96,122.85L230.3,123.54L225.59,113.55L221.21,112.85Z" fill="#1affa0"/>
<path d="M235.1,134.38L239.34,135.46L234.59,124.64L230.3,123.54Z" fill="#1acdfd"/>
<path d="M105.38,97.74L110.1,91.96L105.66,93.61L100.94,99.42Z" fill="#ceff74"/>
<path d="M128.44,86.75L133.15,82.09L128.56,81.19L123.86,85.89Z" fill="#ffd689"/>
<path d="M203.02,104.17L207.56,103.58L202.87,95.34L198.31,95.94Z" fill="#8fff1a"/>
<path d="M100.6,104.02L105.38,97.74L100.94,99.42L96.19,105.73Z" fill="#abff72"/>
<path d="M119.14,91.09L123.86,85.89L119.31,85.87L114.6,91.11Z" fill="#fff183"/>
<path d="M156.42,82.42L161.1,79.36L156.45,75.73L151.77,78.82Z" fill="#ff8f47"/>
<path d="M165.76,83.9L170.42,81.36L165.76,76.79L161.1,79.36Z" fill="#ff8f30"/>
<path d="M175.09,86.83L179.73,84.8L175.07,79.31L170.42,81.36Z" fill="#ffa823"/>
<path d="M212.3,112.72L216.78,112.56L212.06,103.43L207.56,103.58Z" fill="#27ff1a"/>
<path d="M147.09,82.4L151.77,78.82L147.13,76.1L142.45,79.73Z" fill="#ffa365"/>
<path d="M184.41,91.2L189.03,89.67L184.36,83.25L179.73,84.8Z" fill="#ffd71d"/>
<path d="M193.72,96.99L198.31,95.94L193.63,88.6L189.03,89.67Z" fill="#e4ff1b"/>
<path d="M221.56,122.58L225.96,122.85L221.21,112.85L216.78,112.56Z" fill="#1aff85"/>
<path d="M230.79,133.72L235.1,134.38L230.3,123.54L225.96,122.85Z" fill="#1af0ff"/>
<path d="M109.86,96.86L114.6,91.11L110.1,91.96L105.38,97.74Z" fill="#e3ff77"/>
<path d="M137.76,83.85L142.45,79.73L137.83,77.93L133.15,82.09Z" fill="#ffbd7e"/>
<path d="M105.07,103.12L109.86,96.86L105.38,97.74L100.6,104.02Z" fill="#c2ff75"/>
<path d="M123.71,91.92L128.44,86.75L123.86,85.89L119.14,91.09Z" fill="#ffec8b"/>
<path d="M133.05,88.48L137.76,83.85L133.15,82.09L128.44,86.75Z" fill="#ffd485"/>
<path d="M151.73,85.97L156.42,82.42L151.77,78.82L147.09,82.4Z" fill="#ffa751"/>
<path d="M161.08,86.93L165.76,83.9L161.1,79.36L156.42,82.42Z" fill="#ffa237"/>
<path d="M170.43,89.34L175.09,86.83L170.42,81.36L165.76,83.9Z" fill="#ffb327"/>
<path d="M179.77,93.21L184.41,91.2L179.73,84.8L175.09,86.83Z" fill="#ffdb1f"/>
<path d="M198.45,105.22L203.02,104.17L198.31,95.94L193.72,96.99Z" fill="#97ff1a"/>
<path d="M207.78,113.31L212.3,112.72L207.56,103.58L203.02,104.17Z" fill="#36ff1a"/>
<path d="M217.11,122.75L221.56,122.58L216.78,112.56L212.3,112.72Z" fill="#1aff6f"/>
<path d="M226.42,133.48L230.79,133.72L225.96,122.85L221.56,122.58Z" fill="#1afff2"/>
<path d="M114.39,96.81L119.14,91.09L114.6,91.11L109.86,96.86Z" fill="#f2ff83"/>
<path d="M189.12,98.51L193.72,96.99L189.03,89.67L184.41,91.2Z" fill="#e6ff1c"/>
<path d="M142.39,86.49L147.09,82.4L142.45,79.73L137.76,83.85Z" fill="#ffbc6f"/>
<path d="M165.75,92.34L170.43,89.34L165.76,83.9L161.08,86.93Z" fill="#ffc32c"/>
<path d="M109.59,103.05L114.39,96.81L109.86,96.86L105.07,103.12Z" fill="#d4ff81"/>
<path d="M156.39,90.45L161.08,86.93L156.42,82.42L151.73,85.97Z" fill="#ffb83f"/>
<path d="M118.95,97.61L123.71,91.92L119.14,91.09L114.39,96.81Z" fill="#faff8b"/>
<path d="M128.31,93.62L133.05,88.48L128.44,86.75L123.71,91.92Z" fill="#ffeb89"/>
<path d="M137.67,91.09L142.39,86.49L137.76,83.85L133.05,88.48Z" fill="#ffd476"/>
<path d="M147.03,90.03L151.73,85.97L147.09,82.4L142.39,86.49Z" fill="#ffc05a"/>
<path d="M175.12,95.7L179.77,93.21L175.09,86.83L170.43,89.34Z" fill="#ffe521"/>
<path d="M184.49,100.51L189.12,98.51L184.41,91.2L179.77,93.21Z" fill="#e3ff1d"/>
<path d="M193.86,106.74L198.45,105.22L193.72,96.99L189.12,98.51Z" fill="#9bff1b"/>
<path d="M203.23,114.37L207.78,113.31L203.02,104.17L198.45,105.22Z" fill="#40ff1a"/>
<path d="M212.62,123.36L217.11,122.75L212.3,112.72L207.78,113.31Z" fill="#1aff5f"/>
<path d="M222.01,133.67L226.42,133.48L221.56,122.58L217.11,122.75Z" fill="#1affdd"/>
<path d="M114.13,103.83L118.95,97.61L114.39,96.81L109.59,103.05Z" fill="#deff8a"/>
<path d="M142.3,94.61L147.03,90.03L142.39,86.49L137.67,91.09Z" fill="#ffdb62"/>
<path d="M161.06,95.85L165.75,92.34L161.08,86.93L156.39,90.45Z" fill="#ffd831"/>
<path d="M170.45,98.69L175.12,95.7L170.43,89.34L165.75,92.34Z" fill="#fff424"/>
<path d="M217.54,134.31L222.01,133.67L217.11,122.75L212.62,123.36Z" fill="#1affcc"/>
<path d="M151.68,94.49L156.39,90.45L151.73,85.97L147.03,90.03Z" fill="#ffd146"/>
<path d="M179.84,102.99L184.49,100.51L179.77,93.21L175.12,95.7Z" fill="#dbff1e"/>
<path d="M189.24,108.73L193.86,106.74L189.12,98.51L184.49,100.51Z" fill="#98ff1b"/>
<path d="M123.53,99.29L128.31,93.62L123.71,91.92L118.95,97.61Z" fill="#fbff8a"/>
<path d="M132.91,96.21L137.67,91.09L133.05,88.48L128.31,93.62Z" fill="#ffed7c"/>
<path d="M198.66,115.89L203.23,114.37L198.45,105.22L193.86,106.74Z" fill="#44ff1a"/>
<path d="M208.09,124.43L212.62,123.36L207.78,113.31L203.23,114.37Z" fill="#1aff55"/>
<path d="M146.94,99.04L151.68,94.49L147.03,90.03L142.3,94.61Z" fill="#ffee4d"/>
<path d="M118.7,105.49L123.53,99.29L118.95,97.61L114.13,103.83Z" fill="#e0ff89"/>
<path d="M137.53,99.71L142.3,94.61L137.67,91.09L132.91,96.21Z" fill="#fff768"/>
<path d="M156.34,99.87L161.06,95.85L156.39,90.45L151.68,94.49Z" fill="#fff236"/>
<path d="M165.75,102.19L170.45,98.69L165.75,92.34L161.06,95.85Z" fill="#f7ff28"/>
<path d="M175.17,105.97L179.84,102.99L175.12,95.7L170.45,98.69Z" fill="#ccff20"/>
<path d="M184.6,111.22L189.24,108.73L184.49,100.51L179.84,102.99Z" fill="#91ff1c"/>
<path d="M213.04,135.41L217.54,134.31L212.62,123.36L208.09,124.43Z" fill="#1affc1"/>
<path d="M194.05,117.89L198.66,115.89L193.86,106.74L189.24,108.73Z" fill="#43ff1a"/>
<path d="M203.53,125.97L208.09,124.43L203.23,114.37L198.66,115.89Z" fill="#1aff51"/>
<path d="M128.12,101.86L132.91,96.21L128.31,93.62L123.53,99.29Z" fill="#f6ff7f"/>
<path d="M151.6,104.41L156.34,99.87L151.68,94.49L146.94,99.04Z" fill="#f0ff3c"/>
<path d="M142.17,104.13L146.94,99.04L142.3,94.61L137.53,99.71Z" fill="#f3ff53"/>
<path d="M189.42,120.39L194.05,117.89L189.24,108.73L184.6,111.22Z" fill="#3bff1b"/>
<path d="M123.28,108.04L128.12,101.86L123.53,99.29L118.7,105.49Z" fill="#daff80"/>
<path d="M132.73,105.34L137.53,99.71L132.91,96.21L128.12,101.86Z" fill="#eaff6c"/>
<path d="M161.03,106.2L165.75,102.19L161.06,95.85L156.34,99.87Z" fill="#deff2b"/>
<path d="M170.48,109.46L175.17,105.97L170.45,98.69L165.75,102.19Z" fill="#baff22"/>
<path d="M179.93,114.2L184.6,111.22L179.84,102.99L175.17,105.97Z" fill="#84ff1d"/>
<path d="M198.94,127.99L203.53,125.97L198.66,115.89L194.05,117.89Z" fill="#1aff52"/>
<path d="M208.5,136.98L213.04,135.41L208.09,124.43L203.53,125.97Z" fill="#1affbc"/>
<path d="M127.87,111.51L132.73,105.34L128.12,101.86L123.28,108.04Z" fill="#caff6f"/>
<path d="M146.82,109.49L151.6,104.41L146.94,99.04L142.17,104.13Z" fill="#d1ff41"/>
<path d="M156.28,110.73L161.03,106.2L156.34,99.87L151.6,104.41Z" fill="#c1ff2f"/>
<path d="M175.24,117.7L179.93,114.2L175.17,105.97L170.48,109.46Z" fill="#71ff1e"/>
<path d="M203.92,139.03L208.5,136.98L203.53,125.97L198.94,127.99Z" fill="#1affbc"/>
<path d="M137.35,109.75L142.17,104.13L137.53,99.71L132.73,105.34Z" fill="#d3ff58"/>
<path d="M165.75,113.47L170.48,109.46L165.75,102.19L161.03,106.2Z" fill="#a2ff24"/>
<path d="M184.76,123.38L189.42,120.39L184.6,111.22L179.93,114.2Z" fill="#2fff1c"/>
<path d="M194.32,130.51L198.94,127.99L194.05,117.89L189.42,120.39Z" fill="#1aff58"/>
<path d="M132.48,115.92L137.35,109.75L132.73,105.34L127.87,111.51Z" fill="#b0ff5c"/>
<path d="M141.99,115.1L146.82,109.49L142.17,104.13L137.35,109.75Z" fill="#aeff46"/>
<path d="M151.49,115.8L156.28,110.73L151.6,104.41L146.82,109.49Z" fill="#a2ff33"/>
<path d="M161,118.01L165.75,113.47L161.03,106.2L156.28,110.73Z" fill="#86ff27"/>
<path d="M170.52,121.71L175.24,117.7L170.48,109.46L165.75,113.47Z" fill="#5aff20"/>
<path d="M180.07,126.89L184.76,123.38L179.93,114.2L175.24,117.7Z" fill="#1dff1c"/>
<path d="M189.66,133.52L194.32,130.51L189.42,120.39L184.76,123.38Z" fill="#1bff65"/>
<path d="M199.31,141.58L203.92,139.03L198.94,127.99L194.32,130.51Z" fill="#1affc2"/>
<path d="M137.11,121.27L141.99,115.1L137.35,109.75L132.48,115.92Z" fill="#89ff4a"/>
<path d="M165.76,126.26L170.52,121.71L165.75,113.47L161,118.01Z" fill="#3eff22"/>
<path d="M184.97,137.06L189.66,133.52L184.76,123.38L180.07,126.89Z" fill="#1bff77"/>
<path d="M194.67,144.63L199.31,141.58L194.32,130.51L189.66,133.52Z" fill="#1affcd"/>
<path d="M146.65,121.42L151.49,115.8L146.82,109.49L141.99,115.1Z" fill="#7dff37"/>
<path d="M156.2,123.09L161,118.01L156.28,110.73L151.49,115.8Z" fill="#65ff2a"/>
<path d="M175.34,130.92L180.07,126.89L175.24,117.7L170.52,121.71Z" fill="#1dff34"/>
<path d="M141.75,127.6L146.65,121.42L141.99,115.1L137.11,121.27Z" fill="#56ff3b"/>
<path d="M170.58,135.49L175.34,130.92L170.52,121.71L165.76,126.26Z" fill="#1fff52"/>
<path d="M180.25,141.12L184.97,137.06L180.07,126.89L175.34,130.92Z" fill="#1cff8f"/>
<path d="M189.99,148.2L194.67,144.63L189.66,133.52L184.97,137.06Z" fill="#1bffde"/>
<path d="M151.35,128.72L156.2,123.09L151.49,115.8L146.65,121.42Z" fill="#41ff2d"/>
<path d="M160.95,131.35L165.76,126.26L161,118.01L156.2,123.09Z" fill="#24ff2b"/>
<path d="M146.43,134.91L151.35,128.72L146.65,121.42L141.75,127.6Z" fill="#30ff48"/>
<path d="M165.76,140.61L170.58,135.49L165.76,126.26L160.95,131.35Z" fill="#20ff76"/>
<path d="M175.48,145.72L180.25,141.12L175.34,130.92L170.58,135.49Z" fill="#1dffac"/>
<path d="M185.26,152.3L189.99,148.2L184.97,137.06L180.25,141.12Z" fill="#1bfff4"/>
<path d="M156.09,137L160.95,131.35L156.2,123.09L151.35,128.72Z" fill="#26ff54"/>
<path d="M151.15,143.22L156.09,137L151.35,128.72L146.43,134.91Z" fill="#28ff82"/>
<path d="M180.49,156.94L185.26,152.3L180.25,141.12L175.48,145.72Z" fill="#1beeff"/>
<path d="M160.88,146.29L165.76,140.61L160.95,131.35L156.09,137Z" fill="#21ff9e"/>
<path d="M170.65,150.87L175.48,145.72L170.58,135.49L165.76,140.61Z" fill="#1dffcd"/>
<path d="M175.65,162.14L180.49,156.94L175.48,145.72L170.65,150.87Z" fill="#1cccff"/>
<path d="M155.94,152.54L160.88,146.29L156.09,137L151.15,143.22Z" fill="#23ffcb"/>
<path d="M165.77,156.59L170.65,150.87L165.76,140.61L160.88,146.29Z" fill="#1efff5"/>
<path d="M160.8,162.88L165.77,156.59L160.88,146.29L155.94,152.54Z" fill="#20ddff"/>
<path d="M170.75,167.91L175.65,162.14L170.65,150.87L165.77,156.59Z" fill="#1da5ff"/>
<path d="M165.77,174.26L170.75,167.91L165.77,156.59L160.8,162.88Z" fill="#1d79ff"/>
</g>
<line x1="86.5" y1="106.5" x2="86.5" y2="111.75" stroke="#666" stroke-width="0.7"/>
<line x1="87.5" y1="114" x2="87.5" y2="111.75" stroke="#666" stroke-width="0.7"/>
<line x1="126.9" y1="59.7" x2="126.9" y2="72.89" stroke="#666" stroke-width="0.7"/>
<line x1="165.6" y1="68.1" x2="165.6" y2="73.55" stroke="#666" stroke-width="0.7"/>
<line x1="165.6" y1="71.6" x2="165.6" y2="73.55" stroke="#666" stroke-width="0.7"/>
<line x1="206.3" y1="74.1" x2="206.3" y2="77.22" stroke="#666" stroke-width="0.7"/>
<line x1="244.1" y1="135.2" x2="244.1" y2="136.86" stroke="#666" stroke-width="0.7"/>
<line x1="166.1" y1="166.9" x2="166.1" y2="174.26" stroke="#666" stroke-width="0.7"/>
<line x1="207.6" y1="143.6" x2="207.6" y2="137.95" stroke="#666" stroke-width="0.7"/>
<line x1="123.3" y1="128.2" x2="123.3" y2="109.32" stroke="#666" stroke-width="0.7"/>
<circle cx="86.5" cy="106.5" r="2.05" fill="#c80000" stroke="#700" stroke-width="0.5"/>
<circle cx="87.5" cy="114" r="1.75" fill="#f4dcdc" stroke="#b06060" stroke-width="0.6"/>
<circle cx="126.9" cy="59.7" r="2.05" fill="#c80000" stroke="#700" stroke-width="0.5"/>
<circle cx="165.6" cy="68.1" r="2.05" fill="#c80000" stroke="#700" stroke-width="0.5"/>
<circle cx="165.6" cy="71.6" r="2.05" fill="#c80000" stroke="#700" stroke-width="0.5"/>
<circle cx="206.3" cy="74.1" r="2.05" fill="#c80000" stroke="#700" stroke-width="0.5"/>
<circle cx="244.1" cy="135.2" r="2.05" fill="#c80000" stroke="#700" stroke-width="0.5"/>
<circle cx="166.1" cy="166.9" r="2.05" fill="#c80000" stroke="#700" stroke-width="0.5"/>
<circle cx="207.6" cy="143.6" r="1.75" fill="#f4dcdc" stroke="#b06060" stroke-width="0.6"/>
<circle cx="123.3" cy="128.2" r="1.75" fill="#f4dcdc" stroke="#b06060" stroke-width="0.6"/>
<circle cx="97.19" cy="192.53" r="0.8" fill="#111"/>
<circle cx="190.89" cy="216.01" r="0.8" fill="#111"/>
<circle cx="118.06" cy="203.77" r="0.8" fill="#111"/>
<circle cx="213.71" cy="203.71" r="0.8" fill="#111"/>
<circle cx="140.86" cy="216.04" r="0.8" fill="#111"/>
<circle cx="234.6" cy="192.45" r="0.8" fill="#111"/>
<text x="67.9" y="44.4" text-anchor="end" textLength="7" font-family="Liberation Sans, sans-serif" font-size="8" fill="#333" lengthAdjust="spacingAndGlyphs">50</text>
<text x="68.8" y="65.4" text-anchor="end" textLength="7" font-family="Liberation Sans, sans-serif" font-size="8" fill="#333" lengthAdjust="spacingAndGlyphs">40</text>
<text x="70.3" y="86.9" text-anchor="end" textLength="7" font-family="Liberation Sans, sans-serif" font-size="8" fill="#333" lengthAdjust="spacingAndGlyphs">30</text>
<text x="70.5" y="106.7" text-anchor="end" textLength="7" font-family="Liberation Sans, sans-serif" font-size="8" fill="#333" lengthAdjust="spacingAndGlyphs">20</text>
<text x="71.3" y="126.9" text-anchor="end" textLength="7" font-family="Liberation Sans, sans-serif" font-size="8" fill="#333" lengthAdjust="spacingAndGlyphs">10</text>
<text x="72" y="147.4" text-anchor="end" textLength="3.5" font-family="Liberation Sans, sans-serif" font-size="8" fill="#333" lengthAdjust="spacingAndGlyphs">0</text>
<text x="61.7" y="190.9" textLength="11.85" font-family="Liberation Sans, sans-serif" font-size="8" fill="#333" lengthAdjust="spacingAndGlyphs">500</text>
<text x="83.7" y="202.7" textLength="11.85" font-family="Liberation Sans, sans-serif" font-size="8" fill="#333" lengthAdjust="spacingAndGlyphs">400</text>
<text x="105.7" y="214.5" textLength="11.85" font-family="Liberation Sans, sans-serif" font-size="8" fill="#333" lengthAdjust="spacingAndGlyphs">300</text>
<text x="128" y="226.4" textLength="11.85" font-family="Liberation Sans, sans-serif" font-size="8" fill="#333" lengthAdjust="spacingAndGlyphs">200</text>
<text x="150" y="238.2" textLength="11.85" font-family="Liberation Sans, sans-serif" font-size="8" fill="#333" lengthAdjust="spacingAndGlyphs">100</text>
<text x="169.8" y="237.9" textLength="3.95" font-family="Liberation Sans, sans-serif" font-size="8" fill="#333" lengthAdjust="spacingAndGlyphs">5</text>
<text x="191.6" y="226.3" textLength="3.95" font-family="Liberation Sans, sans-serif" font-size="8" fill="#333" lengthAdjust="spacingAndGlyphs">6</text>
<text x="214.1" y="214.6" textLength="3.95" font-family="Liberation Sans, sans-serif" font-size="8" fill="#333" lengthAdjust="spacingAndGlyphs">7</text>
<text x="235.9" y="203" textLength="3.95" font-family="Liberation Sans, sans-serif" font-size="8" fill="#333" lengthAdjust="spacingAndGlyphs">8</text>
<text x="257.8" y="191.4" textLength="3.95" font-family="Liberation Sans, sans-serif" font-size="8" fill="#333" lengthAdjust="spacingAndGlyphs">9</text>
<text x="55.4" y="229.6" font-family="Liberation Serif, serif" class="h" font-size="11.2" fill="#222">[NaCl]mM</text>
<text x="232.7" y="225" font-family="Liberation Serif, serif" class="h" font-size="11.6" fill="#222">pH</text>
<line x1="250.3" y1="221.8" x2="250.3" y2="225" stroke="#bbb" stroke-width="0.6"/>
<text transform="translate(51.6 165.7) rotate(-90)" font-family="Liberation Serif, serif" class="h" font-size="13.6" fill="#222">Recovery (%)</text>
<linearGradient id="lg" x1="0" y1="0" x2="0" y2="1"><stop offset="0" stop-color="#ff0000"/><stop offset="0.5" stop-color="#00ff00"/><stop offset="1" stop-color="#0000ff"/></linearGradient>
<rect x="287.2" y="125.2" width="11.5" height="30.8" fill="url(#lg)"/>
<text transform="translate(296.8 121.2) rotate(-90)" font-family="Liberation Sans, sans-serif" font-size="8.6" font-weight="bold" fill="#ff2020">42</text>
<text transform="translate(296.8 168.4) rotate(-90)" font-family="Liberation Sans, sans-serif" font-size="8.6" font-weight="bold" fill="#3030ff">10</text>
<radialGradient id="cg" gradientUnits="userSpaceOnUse" cx="0" cy="0" r="6.4559" fx="0" fy="0" gradientTransform="matrix(-29.3442 4.8354 -3.4331 -21.4910 447.463 107.718)"><stop offset="0.0000" stop-color="#ff0a00"/><stop offset="0.1095" stop-color="#ff1a00"/><stop offset="0.1549" stop-color="#ff2a00"/><stop offset="0.1897" stop-color="#ff3a00"/><stop offset="0.2191" stop-color="#ff4a00"/><stop offset="0.2449" stop-color="#ff5a00"/><stop offset="0.2683" stop-color="#ff6a00"/><stop offset="0.2898" stop-color="#ff7a00"/><stop offset="0.3098" stop-color="#ff8a00"/><stop offset="0.3286" stop-color="#ff9a00"/><stop offset="0.3464" stop-color="#ffaa00"/><stop offset="0.3633" stop-color="#ffba00"/><stop offset="0.3794" stop-color="#ffca00"/><stop offset="0.3949" stop-color="#ffd900"/><stop offset="0.4098" stop-color="#ffe900"/><stop offset="0.4242" stop-color="#fff900"/><stop offset="0.4381" stop-color="#f5ff00"/><stop offset="0.4516" stop-color="#e5ff00"/><stop offset="0.4647" stop-color="#d5ff00"/><stop offset="0.4774" stop-color="#c5ff00"/><stop offset="0.4898" stop-color="#b5ff00"/><stop offset="0.5019" stop-color="#a5ff00"/><stop offset="0.5137" stop-color="#95ff00"/><stop offset="0.5253" stop-color="#85ff00"/><stop offset="0.5366" stop-color="#75ff00"/><stop offset="0.5476" stop-color="#65ff00"/><stop offset="0.5585" stop-color="#55ff00"/><stop offset="0.5691" stop-color="#45ff00"/><stop offset="0.5796" stop-color="#35ff00"/><stop offset="0.5898" stop-color="#26ff00"/><stop offset="0.5999" stop-color="#16ff00"/><stop offset="0.6098" stop-color="#06ff00"/><stop offset="0.6196" stop-color="#00ff0a"/><stop offset="0.6292" stop-color="#00ff1a"/><stop offset="0.6387" stop-color="#00ff2a"/><stop offset="0.6480" stop-color="#00ff3a"/><stop offset="0.6572" stop-color="#00ff4a"/><stop offset="0.6662" stop-color="#00ff5a"/><stop offset="0.6752" stop-color="#00ff6a"/><stop offset="0.6840" stop-color="#00ff7a"/><stop offset="0.6927" stop-color="#00ff8a"/><stop offset="0.7013" stop-color="#00ff9a"/><stop offset="0.7098" stop-color="#00ffaa"/><stop offset="0.7182" stop-color="#00ffba"/><stop offset="0.7265" stop-color="#00ffca"/><stop offset="0.7347" stop-color="#00ffd9"/><stop offset="0.7429" stop-color="#00ffe9"/><stop offset="0.7509" stop-color="#00fff9"/><stop offset="0.7588" stop-color="#00f5ff"/><stop offset="0.7667" stop-color="#00e5ff"/><stop offset="0.7745" stop-color="#00d5ff"/><stop offset="0.7822" stop-color="#00c5ff"/><stop offset="0.7898" stop-color="#00b5ff"/><stop offset="0.7974" stop-color="#00a5ff"/><stop offset="0.8049" stop-color="#0095ff"/><stop offset="0.8123" stop-color="#0085ff"/><stop offset="0.8196" stop-color="#0075ff"/><stop offset="0.8269" stop-color="#0065ff"/><stop offset="0.8342" stop-color="#0055ff"/><stop offset="0.8413" stop-color="#0045ff"/><stop offset="0.8484" stop-color="#0035ff"/><stop offset="0.8555" stop-color="#0026ff"/><stop offset="0.8624" stop-color="#0016ff"/><stop offset="0.8694" stop-color="#0006ff"/><stop offset="0.8718" stop-color="#0000ff"/></radialGradient>
<rect x="345.9" y="24.2" width="191" height="194.8" fill="url(#cg)"/>
<clipPath id="bc"><rect x="345.9" y="24.2" width="191" height="194.8"/></clipPath>
<g clip-path="url(#bc)" fill="none" stroke="#2a2a2a" stroke-width="0.8">
<path d="M282.3,134.93L281.73,130.7L281.36,126.43L281.19,122.14L281.22,117.83L281.46,113.52L281.9,109.19L282.54,104.86L283.38,100.54L284.42,96.22L285.66,91.92L287.09,87.64L288.72,83.38L290.55,79.15L292.57,74.96L294.77,70.81L297.16,66.7L299.74,62.64L302.49,58.64L305.42,54.69L308.52,50.82L311.8,47.01L315.24,43.27L318.84,39.61L322.59,36.04L326.5,32.55L330.56,29.16L334.75,25.86L339.09,22.66L343.56,19.56L348.15,16.57L352.87,13.69L357.7,10.93L362.64,8.29L367.68,5.76L372.82,3.36L378.05,1.09L383.37,-1.05L388.76,-3.06L394.22,-4.94L399.76,-6.68L405.34,-8.28L410.98,-9.73L416.67,-11.05L422.39,-12.22L428.14,-13.24L433.92,-14.12L439.71,-14.84L445.51,-15.42L451.31,-15.85L457.11,-16.13L462.9,-16.26L468.67,-16.23L474.41,-16.06L480.12,-15.73L485.79,-15.25L491.42,-14.63L496.99,-13.85L502.5,-12.93L507.94,-11.86L513.31,-10.64L518.6,-9.28L523.8,-7.78L528.91,-6.14L533.92,-4.35L538.82,-2.43L543.62,-0.38L548.29,1.8L552.85,4.12L557.27,6.56L561.56,9.12L565.71,11.8L569.72,14.6L573.58,17.52L577.29,20.54L580.83,23.67L584.22,26.9L587.44,30.23L590.48,33.66L593.36,37.17L596.05,40.77L598.57,44.46L600.9,48.22L603.04,52.05L605,55.95L606.76,59.91L608.33,63.93L609.7,68.01L610.87,72.13L611.85,76.3L612.62,80.5L613.2,84.74L613.57,89.01L613.74,93.3L613.7,97.6L613.47,101.92L613.03,106.25L612.39,110.57L611.55,114.9L610.51,119.21L609.27,123.51L607.83,127.8L606.2,132.05L604.38,136.28L602.36,140.48L600.16,144.63L597.77,148.74L595.19,152.8L592.44,156.8L589.51,160.74L586.4,164.62L583.13,168.43L579.69,172.17L576.09,175.82L572.34,179.4L568.43,182.88L564.37,186.28L560.17,189.58L555.84,192.78L551.37,195.88L546.78,198.86L542.06,201.74L537.23,204.5L532.29,207.15L527.25,209.67L522.11,212.07L516.88,214.35L511.56,216.49L506.17,218.5L500.7,220.38L495.17,222.11L489.58,223.71L483.94,225.17L478.26,226.48L472.54,227.65L466.79,228.68L461.01,229.55L455.22,230.28L449.42,230.86L443.61,231.29L437.81,231.57L432.03,231.69L426.26,231.67L420.51,231.49L414.8,231.17L409.13,230.69L403.51,230.06L397.94,229.29L392.43,228.37L386.99,227.3L381.62,226.08L376.33,224.72L371.13,223.22L366.02,221.57L361.01,219.79L356.1,217.87L351.31,215.82L346.63,213.63L342.08,211.32L337.66,208.88L333.36,206.32L329.21,203.63L325.2,200.83L321.35,197.92L317.64,194.9L314.09,191.77L310.71,188.53L307.49,185.2L304.44,181.78L301.57,178.26L298.87,174.66L296.36,170.98L294.03,167.22L291.89,163.39L289.93,159.49L288.17,155.52L286.6,151.5L285.23,147.43L284.05,143.3L283.08,139.14L282.3,134.93Z"/>
<path d="M310.84,130.23L310.36,126.73L310.06,123.2L309.92,119.65L309.94,116.09L310.14,112.51L310.5,108.94L311.03,105.36L311.72,101.78L312.59,98.21L313.61,94.65L314.8,91.11L316.15,87.59L317.66,84.09L319.33,80.62L321.15,77.18L323.13,73.79L325.26,70.43L327.54,67.12L329.96,63.85L332.53,60.65L335.24,57.49L338.08,54.4L341.06,51.38L344.16,48.42L347.4,45.54L350.75,42.73L354.23,40L357.81,37.35L361.51,34.79L365.31,32.32L369.21,29.94L373.2,27.65L377.29,25.46L381.46,23.38L385.71,21.39L390.04,19.51L394.44,17.74L398.9,16.08L403.42,14.52L408,13.09L412.62,11.76L417.29,10.56L421.99,9.47L426.72,8.5L431.48,7.66L436.26,6.93L441.05,6.33L445.85,5.85L450.65,5.5L455.45,5.27L460.23,5.16L465.01,5.18L469.76,5.33L474.48,5.6L479.17,5.99L483.82,6.51L488.43,7.15L492.99,7.91L497.49,8.8L501.93,9.81L506.31,10.93L510.61,12.17L514.84,13.53L518.98,15.01L523.04,16.6L527.01,18.29L530.87,20.1L534.64,22.01L538.3,24.03L541.85,26.15L545.29,28.37L548.6,30.69L551.79,33.1L554.86,35.6L557.79,38.19L560.59,40.86L563.25,43.62L565.78,46.45L568.15,49.36L570.38,52.34L572.46,55.39L574.39,58.5L576.16,61.67L577.78,64.89L579.24,68.17L580.54,71.5L581.67,74.87L582.64,78.28L583.45,81.73L584.09,85.21L584.56,88.71L584.87,92.24L585.01,95.79L584.98,99.35L584.79,102.92L584.43,106.5L583.9,110.08L583.2,113.66L582.34,117.23L581.32,120.79L580.13,124.33L578.78,127.85L577.27,131.35L575.6,134.82L573.78,138.25L571.8,141.65L569.67,145.01L567.39,148.32L564.97,151.58L562.4,154.79L559.69,157.94L556.85,161.03L553.87,164.06L550.76,167.01L547.53,169.9L544.17,172.71L540.7,175.44L537.12,178.08L533.42,180.65L529.62,183.12L525.72,185.5L521.72,187.78L517.64,189.97L513.46,192.06L509.21,194.05L504.89,195.93L500.49,197.7L496.03,199.36L491.5,200.91L486.93,202.35L482.31,203.67L477.64,204.88L472.94,205.97L468.21,206.93L463.45,207.78L458.67,208.5L453.88,209.11L449.08,209.59L444.28,209.94L439.48,210.17L434.69,210.27L429.92,210.25L425.17,210.11L420.45,209.84L415.76,209.45L411.1,208.93L406.5,208.29L401.94,207.52L397.43,206.64L392.99,205.63L388.62,204.51L384.31,203.26L380.09,201.9L375.94,200.43L371.89,198.84L367.92,197.14L364.05,195.34L360.29,193.42L356.63,191.4L353.08,189.28L349.64,187.06L346.33,184.75L343.13,182.34L340.07,179.84L337.13,177.25L334.33,174.57L331.67,171.82L329.15,168.98L326.77,166.08L324.54,163.1L322.46,160.05L320.54,156.94L318.76,153.77L317.15,150.54L315.69,147.27L314.39,143.94L313.26,140.57L312.29,137.16L311.48,133.71L310.84,130.23Z"/>
<path d="M347.18,124.24L346.84,121.67L346.61,119.08L346.51,116.48L346.53,113.86L346.67,111.24L346.94,108.61L347.33,105.98L347.84,103.36L348.47,100.74L349.22,98.13L350.09,95.53L351.08,92.94L352.19,90.38L353.41,87.83L354.75,85.31L356.21,82.81L357.77,80.35L359.44,77.92L361.22,75.52L363.1,73.17L365.09,70.86L367.18,68.59L369.36,66.37L371.65,64.2L374.02,62.08L376.48,60.02L379.03,58.02L381.66,56.07L384.37,54.19L387.16,52.38L390.03,50.63L392.96,48.95L395.96,47.35L399.02,45.81L402.14,44.36L405.32,42.98L408.55,41.68L411.82,40.46L415.14,39.32L418.5,38.26L421.89,37.29L425.31,36.41L428.77,35.61L432.24,34.9L435.73,34.28L439.24,33.74L442.76,33.3L446.28,32.95L449.8,32.69L453.32,32.52L456.84,32.45L460.34,32.46L463.83,32.57L467.29,32.76L470.74,33.05L474.15,33.43L477.53,33.9L480.88,34.47L484.18,35.12L487.44,35.85L490.65,36.68L493.81,37.59L496.91,38.59L499.96,39.67L502.93,40.84L505.84,42.08L508.68,43.41L511.45,44.81L514.13,46.3L516.74,47.85L519.26,49.48L521.69,51.18L524.04,52.95L526.29,54.79L528.44,56.69L530.5,58.65L532.45,60.67L534.3,62.75L536.05,64.89L537.68,67.07L539.21,69.31L540.62,71.59L541.93,73.92L543.11,76.29L544.18,78.69L545.13,81.13L545.97,83.61L546.68,86.11L547.27,88.64L547.74,91.19L548.09,93.77L548.32,96.36L548.42,98.96L548.4,101.58L548.26,104.2L547.99,106.82L547.6,109.45L547.09,112.08L546.46,114.7L545.71,117.31L544.84,119.91L543.84,122.49L542.74,125.06L541.51,127.61L540.17,130.13L538.72,132.62L537.16,135.09L535.49,137.52L533.71,139.91L531.82,142.27L529.84,144.58L527.75,146.85L525.56,149.07L523.28,151.24L520.91,153.36L518.45,155.42L515.9,157.42L513.26,159.36L510.55,161.24L507.76,163.06L504.9,164.81L501.97,166.48L498.97,168.09L495.91,169.62L492.79,171.08L489.61,172.46L486.38,173.76L483.11,174.98L479.79,176.12L476.43,177.18L473.04,178.15L469.61,179.03L466.16,179.83L462.69,180.54L459.2,181.16L455.69,181.69L452.17,182.13L448.65,182.49L445.13,182.75L441.6,182.91L438.09,182.99L434.59,182.98L431.1,182.87L427.63,182.67L424.19,182.38L420.78,182L417.39,181.53L414.05,180.97L410.74,180.32L407.48,179.58L404.27,178.76L401.11,177.84L398.01,176.85L394.97,175.76L391.99,174.6L389.08,173.35L386.24,172.03L383.48,170.62L380.79,169.14L378.19,167.58L375.67,165.95L373.23,164.25L370.89,162.49L368.64,160.65L366.49,158.75L364.43,156.79L362.48,154.76L360.63,152.69L358.88,150.55L357.24,148.36L355.72,146.13L354.3,143.85L353,141.52L351.82,139.15L350.75,136.74L349.79,134.3L348.96,131.83L348.25,129.33L347.66,126.8L347.18,124.24Z"/>
<path d="M409.45,113.98L409.32,113.01L409.23,112.02L409.19,111.04L409.2,110.05L409.26,109.05L409.36,108.06L409.5,107.06L409.7,106.07L409.94,105.07L410.22,104.08L410.55,103.1L410.93,102.12L411.35,101.14L411.81,100.18L412.32,99.22L412.87,98.28L413.46,97.34L414.1,96.42L414.77,95.51L415.49,94.62L416.24,93.74L417.03,92.88L417.86,92.04L418.72,91.22L419.62,90.42L420.56,89.64L421.52,88.88L422.52,88.14L423.55,87.43L424.61,86.74L425.69,86.08L426.8,85.44L427.94,84.83L429.1,84.25L430.28,83.7L431.49,83.18L432.71,82.68L433.95,82.22L435.21,81.79L436.48,81.39L437.77,81.02L439.07,80.69L440.38,80.38L441.69,80.11L443.02,79.88L444.35,79.68L445.68,79.51L447.01,79.38L448.35,79.28L449.68,79.21L451.02,79.18L452.34,79.19L453.67,79.23L454.98,79.31L456.29,79.42L457.58,79.56L458.86,79.74L460.13,79.95L461.38,80.2L462.62,80.48L463.84,80.79L465.03,81.14L466.21,81.51L467.36,81.92L468.49,82.37L469.59,82.84L470.67,83.34L471.72,83.87L472.74,84.43L473.72,85.02L474.68,85.64L475.6,86.29L476.49,86.96L477.34,87.65L478.16,88.37L478.94,89.12L479.68,89.88L480.38,90.67L481.04,91.48L481.66,92.31L482.24,93.16L482.78,94.02L483.27,94.91L483.72,95.8L484.13,96.72L484.49,97.64L484.8,98.58L485.07,99.53L485.3,100.49L485.48,101.45L485.61,102.43L485.69,103.41L485.73,104.4L485.73,105.39L485.67,106.38L485.57,107.38L485.42,108.38L485.23,109.37L484.99,110.36L484.7,111.35L484.37,112.34L484,113.32L483.58,114.29L483.11,115.26L482.61,116.21L482.06,117.16L481.46,118.09L480.83,119.01L480.16,119.92L479.44,120.82L478.69,121.69L477.9,122.55L477.07,123.39L476.2,124.22L475.3,125.02L474.37,125.8L473.4,126.56L472.41,127.3L471.38,128.01L470.32,128.7L469.24,129.36L468.12,129.99L466.99,130.6L465.83,131.18L464.64,131.74L463.44,132.26L462.22,132.75L460.97,133.22L459.72,133.65L458.44,134.05L457.16,134.42L455.86,134.75L454.55,135.05L453.23,135.32L451.91,135.56L450.58,135.76L449.25,135.93L447.91,136.06L446.58,136.16L445.24,136.22L443.91,136.25L442.58,136.25L441.26,136.21L439.95,136.13L438.64,136.02L437.35,135.88L436.07,135.7L434.8,135.49L433.54,135.24L432.31,134.96L431.09,134.65L429.89,134.3L428.72,133.92L427.56,133.51L426.44,133.07L425.33,132.6L424.26,132.1L423.21,131.56L422.19,131L421.2,130.41L420.25,129.79L419.32,129.15L418.44,128.48L417.58,127.78L416.77,127.06L415.99,126.32L415.25,125.55L414.55,124.76L413.88,123.95L413.26,123.13L412.69,122.28L412.15,121.41L411.66,120.53L411.21,119.63L410.8,118.72L410.44,117.8L410.12,116.86L409.85,115.91L409.63,114.95L409.45,113.98Z"/>
</g>
<rect x="345.9" y="24.2" width="191" height="194.8" fill="none" stroke="#bbb" stroke-width="0.5"/>
<text x="345.9" y="233.8" text-anchor="middle" font-family="Liberation Sans, sans-serif" font-size="8" textLength="3.5" lengthAdjust="spacingAndGlyphs" fill="#333">5</text>
<text x="393.65" y="233.8" text-anchor="middle" font-family="Liberation Sans, sans-serif" font-size="8" textLength="3.5" lengthAdjust="spacingAndGlyphs" fill="#333">6</text>
<text x="441.4" y="233.8" text-anchor="middle" font-family="Liberation Sans, sans-serif" font-size="8" textLength="3.5" lengthAdjust="spacingAndGlyphs" fill="#333">7</text>
<text x="489.15" y="233.8" text-anchor="middle" font-family="Liberation Sans, sans-serif" font-size="8" textLength="3.5" lengthAdjust="spacingAndGlyphs" fill="#333">8</text>
<text x="536.9" y="233.8" text-anchor="middle" font-family="Liberation Sans, sans-serif" font-size="8" textLength="3.5" lengthAdjust="spacingAndGlyphs" fill="#333">9</text>
<text x="339.6" y="221.8" text-anchor="end" font-family="Liberation Sans, sans-serif" font-size="8" textLength="10.1" lengthAdjust="spacingAndGlyphs" fill="#333">100</text>
<text x="339.6" y="173.1" text-anchor="end" font-family="Liberation Sans, sans-serif" font-size="8" textLength="10.1" lengthAdjust="spacingAndGlyphs" fill="#333">200</text>
<text x="339.6" y="124.4" text-anchor="end" font-family="Liberation Sans, sans-serif" font-size="8" textLength="10.1" lengthAdjust="spacingAndGlyphs" fill="#333">300</text>
<text x="339.6" y="75.7" text-anchor="end" font-family="Liberation Sans, sans-serif" font-size="8" textLength="10.1" lengthAdjust="spacingAndGlyphs" fill="#333">400</text>
<text x="339.6" y="27" text-anchor="end" font-family="Liberation Sans, sans-serif" font-size="8" textLength="10.1" lengthAdjust="spacingAndGlyphs" fill="#333">500</text>
<path d="M345.9,219.0V223.0M393.65,219.0V223.0M441.4,219.0V223.0M489.15,219.0V223.0M536.9,219.0V223.0M345.9,219H340.9M345.9,170.3H340.9M345.9,121.6H340.9M345.9,72.9H340.9M345.9,24.2H340.9" stroke="#444" stroke-width="0.8"/>
<rect x="359.2" y="26" width="9" height="8.5" fill="#fff" stroke="#555" stroke-width="0.6"/>
<text x="363.7" y="32.75" text-anchor="middle" font-family="Liberation Sans, sans-serif" font-size="7" fill="#333">20</text>
<rect x="347" y="90.6" width="8.7" height="8.4" fill="#fff" stroke="#555" stroke-width="0.6"/>
<text x="351.35" y="97.3" text-anchor="middle" font-family="Liberation Sans, sans-serif" font-size="7" fill="#333">30</text>
<rect x="429.9" y="127.3" width="9.3" height="8.2" fill="#fff" stroke="#555" stroke-width="0.6"/>
<text x="434.55" y="133.9" text-anchor="middle" font-family="Liberation Sans, sans-serif" font-size="7" fill="#333">40</text>
<rect x="346.4" y="209.2" width="9.3" height="7.8" fill="#fff" stroke="#555" stroke-width="0.6"/>
<text x="351.05" y="215.6" text-anchor="middle" font-family="Liberation Sans, sans-serif" font-size="7" fill="#333">10</text>
<rect x="439.2" y="203.1" width="9.3" height="8.7" fill="#fff" stroke="#555" stroke-width="0.6"/>
<text x="443.85" y="209.95" text-anchor="middle" font-family="Liberation Sans, sans-serif" font-size="7" fill="#333">20</text>
<rect x="518.4" y="204.2" width="9.4" height="8.1" fill="#fff" stroke="#555" stroke-width="0.6"/>
<text x="523.1" y="210.75" text-anchor="middle" font-family="Liberation Sans, sans-serif" font-size="7" fill="#333">10</text>
<circle cx="346" cy="52.7" r="1.9" fill="#c00000" stroke="#600" stroke-width="0.5"/>
<circle cx="413" cy="67.8" r="1.9" fill="#c00000" stroke="#600" stroke-width="0.5"/>
<circle cx="465.2" cy="24" r="1.9" fill="#c00000" stroke="#600" stroke-width="0.5"/>
<circle cx="536.9" cy="24" r="1.9" fill="#c00000" stroke="#600" stroke-width="0.5"/>
<circle cx="536.9" cy="94.2" r="1.9" fill="#c00000" stroke="#600" stroke-width="0.5"/>
<circle cx="346" cy="135.1" r="1.9" fill="#c00000" stroke="#600" stroke-width="0.5"/>
<circle cx="427.4" cy="136" r="1.9" fill="#c00000" stroke="#600" stroke-width="0.5"/>
<circle cx="498.5" cy="150.6" r="1.9" fill="#c00000" stroke="#600" stroke-width="0.5"/>
<circle cx="346" cy="219" r="1.9" fill="#c00000" stroke="#600" stroke-width="0.5"/>
<circle cx="427.5" cy="219" r="1.9" fill="#c00000" stroke="#600" stroke-width="0.5"/>
<circle cx="508.1" cy="219" r="1.9" fill="#c00000" stroke="#600" stroke-width="0.5"/>
<text x="349.5" y="58.5" font-family="Liberation Sans, sans-serif" font-size="6.5" fill="#222">2</text>
<text x="463" y="31" font-family="Liberation Sans, sans-serif" font-size="6.5" fill="#222">2</text>
<text x="420.5" y="139" font-family="Liberation Sans, sans-serif" font-size="6.5" fill="#222">3</text>
<text x="503.5" y="216.5" font-family="Liberation Sans, sans-serif" font-size="6.5" fill="#222">2</text>
<text x="417.3" y="51.6" font-family="Liberation Serif, serif" class="h" font-size="11.6" fill="#111">Recovery (%)</text>
<text x="449.6" y="241.5" font-family="Liberation Serif, serif" class="h" font-size="11.6" fill="#111">pH</text>
<text transform="translate(318.6 147.1) rotate(-90)" font-family="Liberation Serif, serif" class="h" font-size="11.5" fill="#111">[NaCl]mM</text>
<path d="M108.3,270.2H76.2V458.3H261.8V270.2H204" fill="none" stroke="#777" stroke-width="1"/>
<text x="85.2" y="472.4" text-anchor="middle" font-family="Liberation Sans, sans-serif" font-size="7.6" textLength="3.3" lengthAdjust="spacingAndGlyphs" fill="#333">0</text>
<text x="69.4" y="452" text-anchor="end" font-family="Liberation Sans, sans-serif" font-size="7.6" textLength="3.3" lengthAdjust="spacingAndGlyphs" fill="#333">0</text>
<text x="118.76" y="472.4" text-anchor="middle" font-family="Liberation Sans, sans-serif" font-size="7.6" textLength="6.6" lengthAdjust="spacingAndGlyphs" fill="#333">10</text>
<text x="69.4" y="417.96" text-anchor="end" font-family="Liberation Sans, sans-serif" font-size="7.6" textLength="6.6" lengthAdjust="spacingAndGlyphs" fill="#333">10</text>
<text x="152.32" y="472.4" text-anchor="middle" font-family="Liberation Sans, sans-serif" font-size="7.6" textLength="6.6" lengthAdjust="spacingAndGlyphs" fill="#333">20</text>
<text x="69.4" y="383.92" text-anchor="end" font-family="Liberation Sans, sans-serif" font-size="7.6" textLength="6.6" lengthAdjust="spacingAndGlyphs" fill="#333">20</text>
<text x="185.88" y="472.4" text-anchor="middle" font-family="Liberation Sans, sans-serif" font-size="7.6" textLength="6.6" lengthAdjust="spacingAndGlyphs" fill="#333">30</text>
<text x="69.4" y="349.88" text-anchor="end" font-family="Liberation Sans, sans-serif" font-size="7.6" textLength="6.6" lengthAdjust="spacingAndGlyphs" fill="#333">30</text>
<text x="219.44" y="472.4" text-anchor="middle" font-family="Liberation Sans, sans-serif" font-size="7.6" textLength="6.6" lengthAdjust="spacingAndGlyphs" fill="#333">40</text>
<text x="69.4" y="315.84" text-anchor="end" font-family="Liberation Sans, sans-serif" font-size="7.6" textLength="6.6" lengthAdjust="spacingAndGlyphs" fill="#333">40</text>
<text x="253" y="472.4" text-anchor="middle" font-family="Liberation Sans, sans-serif" font-size="7.6" textLength="6.6" lengthAdjust="spacingAndGlyphs" fill="#333">50</text>
<text x="69.4" y="281.8" text-anchor="end" font-family="Liberation Sans, sans-serif" font-size="7.6" textLength="6.6" lengthAdjust="spacingAndGlyphs" fill="#333">50</text>
<path d="M85.2,458.3V462.8M76.2,449.3H71.7M118.76,458.3V462.8M76.2,415.26H71.7M152.32,458.3V462.8M76.2,381.22H71.7M185.88,458.3V462.8M76.2,347.18H71.7M219.44,458.3V462.8M76.2,313.14H71.7M253,458.3V462.8M76.2,279.1H71.7" stroke="#555" stroke-width="0.8"/>
<line x1="85.2" y1="449.3" x2="253" y2="279.1" stroke="#444" stroke-width="1"/>
<rect x="117.2" y="413.9" width="3.6" height="3.6" fill="#f58010" stroke="#6a3000" stroke-width="0.85"/>
<rect x="118.5" y="415.2" width="1" height="1" fill="#b05000"/>
<rect x="123.3" y="418.9" width="3.6" height="3.6" fill="#f58010" stroke="#6a3000" stroke-width="0.85"/>
<rect x="124.6" y="420.2" width="1" height="1" fill="#b05000"/>
<rect x="130.2" y="389.6" width="3.6" height="3.6" fill="#f58010" stroke="#6a3000" stroke-width="0.85"/>
<rect x="131.5" y="390.9" width="1" height="1" fill="#b05000"/>
<rect x="153.6" y="349.4" width="3.6" height="3.6" fill="#f58010" stroke="#6a3000" stroke-width="0.85"/>
<rect x="154.9" y="350.7" width="1" height="1" fill="#b05000"/>
<rect x="153.6" y="375.4" width="3.6" height="3.6" fill="#f58010" stroke="#6a3000" stroke-width="0.85"/>
<rect x="154.9" y="376.7" width="1" height="1" fill="#b05000"/>
<rect x="160.2" y="354.1" width="3.6" height="3.6" fill="#f58010" stroke="#6a3000" stroke-width="0.85"/>
<rect x="161.5" y="355.4" width="1" height="1" fill="#b05000"/>
<rect x="167.1" y="354.1" width="3.6" height="3.6" fill="#f58010" stroke="#6a3000" stroke-width="0.85"/>
<rect x="168.4" y="355.4" width="1" height="1" fill="#b05000"/>
<rect x="163.5" y="375.6" width="3.6" height="3.6" fill="#f58010" stroke="#6a3000" stroke-width="0.85"/>
<rect x="164.8" y="376.9" width="1" height="1" fill="#b05000"/>
<rect x="163.5" y="377.8" width="3.6" height="3.6" fill="#f58010" stroke="#6a3000" stroke-width="0.85"/>
<rect x="164.8" y="379.1" width="1" height="1" fill="#b05000"/>
<rect x="183.8" y="337.8" width="3.6" height="3.6" fill="#f58010" stroke="#6a3000" stroke-width="0.85"/>
<rect x="185.1" y="339.1" width="1" height="1" fill="#b05000"/>
<rect x="200.6" y="331.7" width="3.6" height="3.6" fill="#f58010" stroke="#6a3000" stroke-width="0.85"/>
<rect x="201.9" y="333" width="1" height="1" fill="#b05000"/>
<rect x="224" y="323.6" width="3.6" height="3.6" fill="#f58010" stroke="#6a3000" stroke-width="0.85"/>
<rect x="225.3" y="324.9" width="1" height="1" fill="#b05000"/>
<rect x="217.3" y="312.7" width="3.6" height="3.6" fill="#f58010" stroke="#6a3000" stroke-width="0.85"/>
<rect x="218.6" y="314" width="1" height="1" fill="#b05000"/>
<rect x="220.9" y="312.7" width="3.6" height="3.6" fill="#f58010" stroke="#6a3000" stroke-width="0.85"/>
<rect x="222.2" y="314" width="1" height="1" fill="#b05000"/>
<rect x="224.4" y="312.7" width="3.6" height="3.6" fill="#f58010" stroke="#6a3000" stroke-width="0.85"/>
<rect x="225.7" y="314" width="1" height="1" fill="#b05000"/>
<text x="113" y="418.2" font-family="Liberation Sans, sans-serif" font-size="7" fill="#333">2</text>
<text x="108.5" y="270" font-family="Liberation Serif, serif" class="h" font-size="12.2" fill="#111">Predicted vs Actual</text>
<text x="156.1" y="482.7" font-family="Liberation Serif, serif" class="h" font-size="9.5" fill="#111">Actual</text>
<text transform="translate(52 379) rotate(-90)" font-family="Liberation Serif, serif" font-size="13" font-weight="bold" textLength="53.1" lengthAdjust="spacingAndGlyphs" fill="#1a1a1a">Predicted</text>
<path d="M401.5,273H344.4V458.5H530.9V273H466.9" fill="none" stroke="#777" stroke-width="1"/>
<text x="353.3" y="471.9" text-anchor="middle" font-family="Liberation Sans, sans-serif" font-size="6.8" fill="#333">-1.000</text>
<text x="395.5" y="471.9" text-anchor="middle" font-family="Liberation Sans, sans-serif" font-size="6.8" fill="#333">-0.500</text>
<text x="437.7" y="471.9" text-anchor="middle" font-family="Liberation Sans, sans-serif" font-size="6.8" fill="#333">0.000</text>
<text x="479.9" y="471.9" text-anchor="middle" font-family="Liberation Sans, sans-serif" font-size="6.8" fill="#333">0.500</text>
<text x="522.1" y="471.9" text-anchor="middle" font-family="Liberation Sans, sans-serif" font-size="6.8" fill="#333">1.000</text>
<text x="338" y="452.3" text-anchor="end" font-family="Liberation Sans, sans-serif" font-size="7.4" textLength="7.1" lengthAdjust="spacingAndGlyphs" fill="#333">15</text>
<text x="338" y="424.5" text-anchor="end" font-family="Liberation Sans, sans-serif" font-size="7.4" textLength="7.1" lengthAdjust="spacingAndGlyphs" fill="#333">20</text>
<text x="338" y="396.7" text-anchor="end" font-family="Liberation Sans, sans-serif" font-size="7.4" textLength="7.1" lengthAdjust="spacingAndGlyphs" fill="#333">25</text>
<text x="338" y="368.9" text-anchor="end" font-family="Liberation Sans, sans-serif" font-size="7.4" textLength="7.1" lengthAdjust="spacingAndGlyphs" fill="#333">30</text>
<text x="338" y="341.1" text-anchor="end" font-family="Liberation Sans, sans-serif" font-size="7.4" textLength="7.1" lengthAdjust="spacingAndGlyphs" fill="#333">35</text>
<text x="338" y="313.3" text-anchor="end" font-family="Liberation Sans, sans-serif" font-size="7.4" textLength="7.1" lengthAdjust="spacingAndGlyphs" fill="#333">40</text>
<text x="338" y="285.5" text-anchor="end" font-family="Liberation Sans, sans-serif" font-size="7.4" textLength="7.1" lengthAdjust="spacingAndGlyphs" fill="#333">45</text>
<path d="M353.3,458.5V463.0M395.5,458.5V463.0M437.7,458.5V463.0M479.9,458.5V463.0M522.1,458.5V463.0M344.4,449.6H339.9M344.4,421.8H339.9M344.4,394H339.9M344.4,366.2H339.9M344.4,338.4H339.9M344.4,310.6H339.9M344.4,282.8H339.9" stroke="#555" stroke-width="0.8"/>
<path d="M353.3,366.2L355.41,363.22L357.52,360.31L359.63,357.48L361.74,354.71L363.85,352.02L365.96,349.4L368.07,346.86L370.18,344.38L372.29,341.98L374.4,339.65L376.51,337.39L378.62,335.21L380.73,333.1L382.84,331.06L384.95,329.09L387.06,327.19L389.17,325.37L391.28,323.62L393.39,321.94L395.5,320.33L397.61,318.8L399.72,317.33L401.83,315.94L403.94,314.63L406.05,313.38L408.16,312.21L410.27,311.11L412.38,310.08L414.49,309.12L416.6,308.24L418.71,307.43L420.82,306.69L422.93,306.02L425.04,305.42L427.15,304.9L429.26,304.45L431.37,304.07L433.48,303.77L435.59,303.53L437.7,303.37L439.81,303.28L441.92,303.27L444.03,303.32L446.14,303.45L448.25,303.65L450.36,303.92L452.47,304.27L454.58,304.68L456.69,305.17L458.8,305.74L460.91,306.37L463.02,307.07L465.13,307.85L467.24,308.7L469.35,309.63L471.46,310.62L473.57,311.69L475.68,312.83L477.79,314.04L479.9,315.33L482.01,316.68L484.12,318.11L486.23,319.61L488.34,321.19L490.45,322.83L492.56,324.55L494.67,326.34L496.78,328.2L498.89,330.14L501,332.15L503.11,334.22L505.22,336.38L507.33,338.6L509.44,340.9L511.55,343.27L513.66,345.71L515.77,348.22L517.88,350.8L519.99,353.46L522.1,356.19" fill="none" stroke="#50c050" stroke-width="1.1"/>
<path d="M353.3,437.37L355.41,431.46L357.52,425.69L359.63,420.05L361.74,414.54L363.85,409.16L365.96,403.91L368.07,398.79L370.18,393.8L372.29,388.94L374.4,384.22L376.51,379.62L378.62,375.16L380.73,370.83L382.84,366.63L384.95,362.56L387.06,358.62L389.17,354.81L391.28,351.13L393.39,347.58L395.5,344.17L397.61,340.88L399.72,337.73L401.83,334.71L403.94,331.82L406.05,329.06L408.16,326.43L410.27,323.93L412.38,321.56L414.49,319.33L416.6,317.22L418.71,315.25L420.82,313.4L422.93,311.69L425.04,310.11L427.15,308.66L429.26,307.34L431.37,306.15L433.48,305.09L435.59,304.17L437.7,303.37L439.81,302.71L441.92,302.17L444.03,301.77L446.14,301.5L448.25,301.36L450.36,301.35L452.47,301.47L454.58,301.73L456.69,302.11L458.8,302.62L460.91,303.27L463.02,304.05L465.13,304.96L467.24,305.99L469.35,307.16L471.46,308.46L473.57,309.9L475.68,311.46L477.79,313.15L479.9,314.98L482.01,316.93L484.12,319.02L486.23,321.24L488.34,323.59L490.45,326.07L492.56,328.68L494.67,331.42L496.78,334.29L498.89,337.3L501,340.43L503.11,343.7L505.22,347.1L507.33,350.62L509.44,354.28L511.55,358.07L513.66,361.99L515.77,366.05L517.88,370.23L519.99,374.54L522.1,378.99" fill="none" stroke="#6060ff" stroke-width="1.1"/>
<circle cx="437.7" cy="303.37" r="2" fill="#000"/>
<text x="355.9" y="367" text-anchor="middle" font-family="Liberation Sans, sans-serif" font-size="6" font-weight="bold" fill="#40b040">A</text>
<text x="519" y="357" text-anchor="middle" font-family="Liberation Sans, sans-serif" font-size="6" font-weight="bold" fill="#40b040">A</text>
<text x="355" y="438.6" text-anchor="middle" font-family="Liberation Sans, sans-serif" font-size="6" font-weight="bold" fill="#5050ff">B</text>
<text x="519.5" y="380.6" text-anchor="middle" font-family="Liberation Sans, sans-serif" font-size="6" font-weight="bold" fill="#5050ff">B</text>
<text x="403.6" y="272.9" font-family="Liberation Serif, serif" class="h" font-size="12.2" fill="#111">Perturbation</text>
<text x="352.7" y="484.8" font-family="Liberation Serif, serif" class="h" font-size="9.2" fill="#111">Distribution from reference point (coded units)</text>
<text transform="translate(318.3 391.8) rotate(-90)" font-family="Liberation Serif, serif" class="h" font-size="13.7" fill="#111">Recovery (%)</text>
</svg></body></html>
